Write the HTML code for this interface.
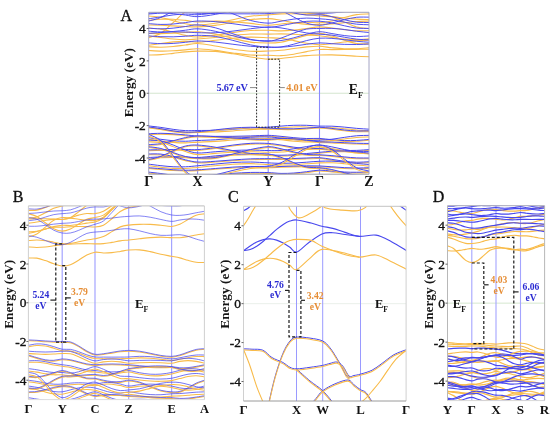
<!DOCTYPE html>
<html><head><meta charset="utf-8"><title>Band structures</title>
<style>html,body{margin:0;padding:0;background:#fff;overflow:hidden;}svg{display:block;filter:blur(0.40px);}</style></head>
<body>
<svg width="550" height="421" viewBox="0 0 550 421" font-family="'Liberation Serif','Times New Roman',serif">
<rect width="550" height="421" fill="#fff"/>
<clipPath id="clipA"><rect x="148.70" y="12.30" width="220.30" height="161.90"/></clipPath>
<line x1="148.70" y1="93.25" x2="369.00" y2="93.25" stroke="#d0e2ca" stroke-width="0.90"/>
<line x1="197.60" y1="12.30" x2="197.60" y2="174.20" stroke="#8a8aff" stroke-width="1.10"/>
<line x1="268.20" y1="12.30" x2="268.20" y2="174.20" stroke="#8a8aff" stroke-width="1.10"/>
<line x1="319.50" y1="12.30" x2="319.50" y2="174.20" stroke="#8a8aff" stroke-width="1.10"/>
<g clip-path="url(#clipA)" fill="none" stroke-linecap="round">
<path d="M148.70 16.02C150.74 16.26 156.85 16.69 160.92 17.46C165.00 18.23 169.07 19.61 173.15 20.66C177.22 21.71 181.30 23.04 185.38 23.76C189.45 24.47 192.62 25.01 197.60 24.93C202.58 24.85 209.37 24.17 215.25 23.29C221.13 22.42 227.02 20.86 232.90 19.68C238.78 18.49 244.67 16.99 250.55 16.20C256.43 15.40 263.12 15.27 268.20 14.89C273.28 14.51 276.75 14.07 281.02 13.89C285.30 13.71 289.58 13.68 293.85 13.81C298.12 13.94 302.40 14.32 306.68 14.69C310.95 15.06 315.30 15.70 319.50 16.02C323.70 16.35 327.75 16.32 331.88 16.64C336.00 16.96 340.12 17.52 344.25 17.94C348.38 18.36 352.50 18.88 356.62 19.16C360.75 19.43 366.94 19.51 369.00 19.59" stroke="#f8bb4a" stroke-width="1.10"/>
<path d="M148.70 24.93C150.74 24.97 156.85 25.03 160.92 25.19C165.00 25.35 169.07 25.64 173.15 25.87C177.22 26.10 181.30 26.40 185.38 26.56C189.45 26.73 192.62 27.06 197.60 26.87C202.58 26.68 209.37 26.17 215.25 25.42C221.13 24.68 227.02 23.38 232.90 22.40C238.78 21.43 244.67 20.21 250.55 19.58C256.43 18.95 263.12 18.49 268.20 18.61C273.28 18.74 276.75 19.64 281.02 20.33C285.30 21.02 289.58 22.07 293.85 22.75C298.12 23.44 302.40 24.17 306.68 24.46C310.95 24.74 315.30 24.53 319.50 24.44C323.70 24.35 327.75 24.20 331.88 23.91C336.00 23.62 340.12 23.10 344.25 22.70C348.38 22.30 352.50 21.78 356.62 21.51C360.75 21.23 366.94 21.12 369.00 21.04" stroke="#f8bb4a" stroke-width="1.10"/>
<path d="M148.70 28.17C150.74 28.32 156.85 28.46 160.92 29.11C165.00 29.77 169.07 31.06 173.15 32.11C177.22 33.16 181.30 34.58 185.38 35.41C189.45 36.24 192.62 37.09 197.60 37.07C202.58 37.05 209.37 36.03 215.25 35.27C221.13 34.51 227.02 33.33 232.90 32.53C238.78 31.73 244.67 30.84 250.55 30.46C256.43 30.08 263.12 30.20 268.20 30.27C273.28 30.34 276.75 30.91 281.02 30.89C285.30 30.87 289.58 30.55 293.85 30.15C298.12 29.75 302.40 29.03 306.68 28.48C310.95 27.94 315.30 26.95 319.50 26.87C323.70 26.79 327.75 27.53 331.88 27.98C336.00 28.43 340.12 29.12 344.25 29.58C348.38 30.04 352.50 30.53 356.62 30.73C360.75 30.92 366.94 30.75 369.00 30.76" stroke="#f8bb4a" stroke-width="1.10"/>
<path d="M148.70 35.94C150.74 36.20 156.85 36.99 160.92 37.51C165.00 38.03 169.07 38.70 173.15 39.07C177.22 39.43 181.30 39.70 185.38 39.69C189.45 39.68 192.62 39.39 197.60 39.01C202.58 38.64 209.37 38.06 215.25 37.45C221.13 36.85 227.02 35.95 232.90 35.38C238.78 34.81 244.67 34.22 250.55 34.02C256.43 33.81 263.12 34.18 268.20 34.16C273.28 34.13 276.75 33.85 281.02 33.86C285.30 33.87 289.58 34.02 293.85 34.21C298.12 34.41 302.40 34.75 306.68 35.01C310.95 35.27 315.30 35.36 319.50 35.78C323.70 36.19 327.75 36.93 331.88 37.48C336.00 38.04 340.12 38.73 344.25 39.09C348.38 39.46 352.50 39.70 356.62 39.66C360.75 39.62 366.94 38.99 369.00 38.85" stroke="#f8bb4a" stroke-width="1.10"/>
<path d="M148.70 45.33C150.74 45.03 156.85 44.12 160.92 43.55C165.00 42.98 169.07 42.28 173.15 41.92C177.22 41.55 181.30 41.32 185.38 41.38C189.45 41.43 192.62 42.43 197.60 42.25C202.58 42.07 209.37 40.99 215.25 40.31C221.13 39.63 227.02 38.71 232.90 38.18C238.78 37.64 244.67 37.18 250.55 37.11C256.43 37.03 263.12 37.52 268.20 37.72C273.28 37.92 276.75 37.83 281.02 38.31C285.30 38.80 289.58 39.78 293.85 40.60C298.12 41.42 302.40 42.56 306.68 43.24C310.95 43.92 315.30 44.60 319.50 44.68C323.70 44.76 327.75 44.16 331.88 43.72C336.00 43.28 340.12 42.56 344.25 42.05C348.38 41.53 352.50 40.92 356.62 40.63C360.75 40.34 366.94 40.36 369.00 40.31" stroke="#f8bb4a" stroke-width="1.10"/>
<path d="M148.70 46.78C150.74 46.86 156.85 47.30 160.92 47.25C165.00 47.20 169.07 46.88 173.15 46.50C177.22 46.11 181.30 45.45 185.38 44.96C189.45 44.47 192.62 43.38 197.60 43.55C202.58 43.71 209.37 45.04 215.25 45.97C221.13 46.90 227.02 48.28 232.90 49.15C238.78 50.03 244.67 50.93 250.55 51.24C256.43 51.54 263.12 51.16 268.20 50.99C273.28 50.83 276.75 50.64 281.02 50.23C285.30 49.82 289.58 49.09 293.85 48.54C298.12 47.98 302.40 47.28 306.68 46.91C310.95 46.54 315.30 46.16 319.50 46.30C323.70 46.43 327.75 47.32 331.88 47.72C336.00 48.13 340.12 48.57 344.25 48.74C348.38 48.91 352.50 48.92 356.62 48.75C360.75 48.59 366.94 47.92 369.00 47.76" stroke="#f8bb4a" stroke-width="1.10"/>
<path d="M148.70 50.51C150.74 50.61 156.85 51.05 160.92 51.10C165.00 51.15 169.07 51.03 173.15 50.82C177.22 50.61 181.30 50.19 185.38 49.84C189.45 49.49 192.62 48.64 197.60 48.73C202.58 48.82 209.37 49.68 215.25 50.38C221.13 51.09 227.02 52.21 232.90 52.97C238.78 53.73 244.67 54.59 250.55 54.96C256.43 55.34 263.12 55.09 268.20 55.20C273.28 55.32 276.75 55.83 281.02 55.66C285.30 55.50 289.58 54.86 293.85 54.20C298.12 53.53 302.40 52.43 306.68 51.66C310.95 50.88 315.30 49.88 319.50 49.54C323.70 49.19 327.75 49.59 331.88 49.59C336.00 49.59 340.12 49.55 344.25 49.52C348.38 49.48 352.50 49.41 356.62 49.36C360.75 49.31 366.94 49.24 369.00 49.21" stroke="#f8bb4a" stroke-width="1.10"/>
<path d="M148.70 55.04C150.74 54.97 156.85 54.92 160.92 54.64C165.00 54.35 169.07 53.79 173.15 53.33C177.22 52.87 181.30 52.25 185.38 51.89C189.45 51.53 192.62 51.24 197.60 51.16C202.58 51.07 209.37 50.94 215.25 51.38C221.13 51.82 227.02 52.86 232.90 53.79C238.78 54.73 244.67 56.10 250.55 56.99C256.43 57.87 263.12 58.85 268.20 59.09C273.28 59.33 276.75 58.79 281.02 58.44C285.30 58.09 289.58 57.47 293.85 56.99C298.12 56.51 302.40 55.91 306.68 55.58C310.95 55.26 315.30 55.15 319.50 55.04C323.70 54.93 327.75 54.86 331.88 54.92C336.00 54.97 340.12 55.18 344.25 55.39C348.38 55.60 352.50 55.94 356.62 56.18C360.75 56.42 366.94 56.71 369.00 56.82" stroke="#f8bb4a" stroke-width="1.10"/>
<path d="M148.70 37.72C150.74 36.98 156.85 35.81 160.92 33.29C165.00 30.76 169.07 26.15 173.15 22.58C177.22 19.01 181.30 14.40 185.38 11.88C189.45 9.35 192.62 8.22 197.60 7.44C202.58 6.67 209.37 7.20 215.25 7.23C221.13 7.26 227.02 7.43 232.90 7.62C238.78 7.81 244.67 8.14 250.55 8.38C256.43 8.62 263.12 8.81 268.20 9.06C273.28 9.31 276.75 9.46 281.02 9.89C285.30 10.32 289.58 11.08 293.85 11.66C298.12 12.23 302.40 12.95 306.68 13.32C310.95 13.70 315.30 13.36 319.50 13.92C323.70 14.48 327.75 15.30 331.88 16.66C336.00 18.02 340.12 20.35 344.25 22.07C348.38 23.78 352.50 25.90 356.62 26.97C360.75 28.04 366.94 28.24 369.00 28.49" stroke="#f8bb4a" stroke-width="1.10"/>
<path d="M148.70 20.39C150.74 20.21 156.85 19.45 160.92 19.26C165.00 19.08 169.07 19.08 173.15 19.27C177.22 19.46 181.30 19.95 185.38 20.41C189.45 20.87 192.62 21.89 197.60 22.01C202.58 22.13 209.37 21.18 215.25 21.13C221.13 21.08 227.02 21.33 232.90 21.71C238.78 22.09 244.67 22.83 250.55 23.42C256.43 24.01 263.12 25.16 268.20 25.25C273.28 25.34 276.75 24.38 281.02 23.96C285.30 23.54 289.58 23.00 293.85 22.72C298.12 22.43 302.40 22.23 306.68 22.24C310.95 22.26 315.30 23.04 319.50 22.82C323.70 22.61 327.75 21.83 331.88 20.95C336.00 20.07 340.12 18.61 344.25 17.56C348.38 16.51 352.50 15.26 356.62 14.65C360.75 14.04 366.94 14.04 369.00 13.92" stroke="#f8bb4a" stroke-width="1.10"/>
<path d="M148.70 33.35C150.74 33.39 156.85 33.63 160.92 33.62C165.00 33.60 169.07 33.45 173.15 33.26C177.22 33.06 181.30 32.73 185.38 32.47C189.45 32.22 192.62 31.45 197.60 31.73C202.58 32.00 209.37 33.01 215.25 34.13C221.13 35.25 227.02 37.11 232.90 38.44C238.78 39.78 244.67 41.37 250.55 42.14C256.43 42.91 263.12 43.05 268.20 43.06C273.28 43.07 276.75 42.89 281.02 42.22C285.30 41.55 289.58 40.17 293.85 39.02C298.12 37.88 302.40 36.30 306.68 35.35C310.95 34.40 315.30 33.23 319.50 33.35C323.70 33.47 327.75 34.91 331.88 36.07C336.00 37.22 340.12 39.04 344.25 40.28C348.38 41.52 352.50 42.91 356.62 43.51C360.75 44.11 366.94 43.81 369.00 43.87" stroke="#f8bb4a" stroke-width="1.10"/>
<path d="M148.70 13.27C150.74 13.15 156.85 12.71 160.92 12.54C165.00 12.37 169.07 12.24 173.15 12.24C177.22 12.24 181.30 12.37 185.38 12.54C189.45 12.71 192.62 13.10 197.60 13.27C202.58 13.45 209.37 13.50 215.25 13.59C221.13 13.68 227.02 13.78 232.90 13.82C238.78 13.86 244.67 13.86 250.55 13.82C256.43 13.78 263.12 13.80 268.20 13.60C273.28 13.39 276.75 12.85 281.02 12.60C285.30 12.34 289.58 12.12 293.85 12.09C298.12 12.05 302.40 12.17 306.68 12.37C310.95 12.56 315.30 13.17 319.50 13.27C323.70 13.37 327.75 13.24 331.88 12.97C336.00 12.69 340.12 12.10 344.25 11.61C348.38 11.11 352.50 10.41 356.62 9.99C360.75 9.57 366.94 9.22 369.00 9.06" stroke="#4848ee" stroke-width="0.95"/>
<path d="M148.70 14.08C150.74 13.93 156.85 13.28 160.92 13.20C165.00 13.12 169.07 13.29 173.15 13.60C177.22 13.90 181.30 14.52 185.38 15.03C189.45 15.55 192.62 16.78 197.60 16.67C202.58 16.56 209.37 15.36 215.25 14.37C221.13 13.37 227.02 11.80 232.90 10.71C238.78 9.62 244.67 8.38 250.55 7.84C256.43 7.30 263.12 7.10 268.20 7.44C273.28 7.78 276.75 8.95 281.02 9.88C285.30 10.81 289.58 12.17 293.85 13.03C298.12 13.89 302.40 14.75 306.68 15.03C310.95 15.32 315.30 14.46 319.50 14.73C323.70 15.00 327.75 15.83 331.88 16.66C336.00 17.50 340.12 18.83 344.25 19.74C348.38 20.66 352.50 21.70 356.62 22.16C360.75 22.62 366.94 22.44 369.00 22.50" stroke="#4848ee" stroke-width="0.95"/>
<path d="M148.70 21.04C150.74 20.44 156.85 19.12 160.92 17.45C165.00 15.78 169.07 13.01 173.15 11.03C177.22 9.05 181.30 6.68 185.38 5.54C189.45 4.41 192.62 3.95 197.60 4.21C202.58 4.46 209.37 5.46 215.25 7.06C221.13 8.66 227.02 11.56 232.90 13.79C238.78 16.03 244.67 18.90 250.55 20.46C256.43 22.01 263.12 23.03 268.20 23.15C273.28 23.27 276.75 21.86 281.02 21.19C285.30 20.51 289.58 19.61 293.85 19.10C298.12 18.58 302.40 18.15 306.68 18.10C310.95 18.04 315.30 18.47 319.50 18.78C323.70 19.08 327.75 19.37 331.88 19.94C336.00 20.50 340.12 21.46 344.25 22.17C348.38 22.88 352.50 23.74 356.62 24.17C360.75 24.60 366.94 24.67 369.00 24.77" stroke="#4848ee" stroke-width="0.95"/>
<path d="M148.70 23.63C150.74 23.77 156.85 24.37 160.92 24.43C165.00 24.49 169.07 24.30 173.15 24.00C177.22 23.69 181.30 23.09 185.38 22.60C189.45 22.10 192.62 21.21 197.60 21.04C202.58 20.88 209.37 21.17 215.25 21.61C221.13 22.05 227.02 22.95 232.90 23.70C238.78 24.44 244.67 25.47 250.55 26.08C256.43 26.69 263.12 27.42 268.20 27.36C273.28 27.29 276.75 26.38 281.02 25.69C285.30 25.00 289.58 23.92 293.85 23.20C298.12 22.47 302.40 21.67 306.68 21.34C310.95 21.01 315.30 20.94 319.50 21.20C323.70 21.47 327.75 22.15 331.88 22.90C336.00 23.66 340.12 24.88 344.25 25.74C348.38 26.60 352.50 27.60 356.62 28.06C360.75 28.51 366.94 28.42 369.00 28.49" stroke="#4848ee" stroke-width="0.95"/>
<path d="M148.70 28.17C150.74 28.28 156.85 28.83 160.92 28.83C165.00 28.82 169.07 28.53 173.15 28.15C177.22 27.77 181.30 27.07 185.38 26.54C189.45 26.00 192.62 24.72 197.60 24.93C202.58 25.14 209.37 26.31 215.25 27.78C221.13 29.25 227.02 31.83 232.90 33.75C238.78 35.68 244.67 38.09 250.55 39.35C256.43 40.60 263.12 41.48 268.20 41.28C273.28 41.08 276.75 39.50 281.02 38.13C285.30 36.77 289.58 34.59 293.85 33.08C298.12 31.57 302.40 29.85 306.68 29.09C310.95 28.32 315.30 28.61 319.50 28.49C323.70 28.37 327.75 28.20 331.88 28.37C336.00 28.54 340.12 29.03 344.25 29.51C348.38 29.99 352.50 30.73 356.62 31.24C360.75 31.74 366.94 32.32 369.00 32.54" stroke="#4848ee" stroke-width="0.95"/>
<path d="M148.70 31.24C150.74 31.36 156.85 31.89 160.92 31.94C165.00 31.98 169.07 31.80 173.15 31.51C177.22 31.23 181.30 30.67 185.38 30.22C189.45 29.77 192.62 28.64 197.60 28.81C202.58 28.99 209.37 30.10 215.25 31.27C221.13 32.43 227.02 34.38 232.90 35.79C238.78 37.20 244.67 38.90 250.55 39.74C256.43 40.57 263.12 40.66 268.20 40.79C273.28 40.93 276.75 41.06 281.02 40.56C285.30 40.07 289.58 38.88 293.85 37.81C298.12 36.74 302.40 35.17 306.68 34.15C310.95 33.14 315.30 31.83 319.50 31.73C323.70 31.63 327.75 32.92 331.88 33.55C336.00 34.19 340.12 35.05 344.25 35.54C348.38 36.04 352.50 36.46 356.62 36.53C360.75 36.60 366.94 36.04 369.00 35.94" stroke="#4848ee" stroke-width="0.95"/>
<path d="M148.70 33.35C150.74 33.20 156.85 32.68 160.92 32.44C165.00 32.19 169.07 31.95 173.15 31.87C177.22 31.79 181.30 31.84 185.38 31.98C189.45 32.12 192.62 32.57 197.60 32.70C202.58 32.83 209.37 33.02 215.25 32.76C221.13 32.49 227.02 31.79 232.90 31.12C238.78 30.45 244.67 29.43 250.55 28.75C256.43 28.07 263.12 27.17 268.20 27.03C273.28 26.89 276.75 27.36 281.02 27.91C285.30 28.47 289.58 29.52 293.85 30.36C298.12 31.20 302.40 32.32 306.68 32.95C310.95 33.58 315.30 33.79 319.50 34.16C323.70 34.52 327.75 34.62 331.88 35.13C336.00 35.64 340.12 36.53 344.25 37.19C348.38 37.86 352.50 38.70 356.62 39.14C360.75 39.58 366.94 39.71 369.00 39.82" stroke="#4848ee" stroke-width="0.95"/>
<path d="M148.70 35.94C150.74 36.06 156.85 36.55 160.92 36.69C165.00 36.84 169.07 36.89 173.15 36.82C177.22 36.74 181.30 36.49 185.38 36.23C189.45 35.98 192.62 35.26 197.60 35.29C202.58 35.32 209.37 35.56 215.25 36.41C221.13 37.26 227.02 38.97 232.90 40.38C238.78 41.79 244.67 43.73 250.55 44.88C256.43 46.03 263.12 46.92 268.20 47.27C273.28 47.62 276.75 47.47 281.02 46.96C285.30 46.44 289.58 45.24 293.85 44.17C298.12 43.10 302.40 41.54 306.68 40.55C310.95 39.55 315.30 38.56 319.50 38.20C323.70 37.85 327.75 38.16 331.88 38.40C336.00 38.65 340.12 39.19 344.25 39.67C348.38 40.15 352.50 40.83 356.62 41.26C360.75 41.69 366.94 42.09 369.00 42.25" stroke="#4848ee" stroke-width="0.95"/>
<path d="M148.70 42.90C150.74 43.03 156.85 43.58 160.92 43.67C165.00 43.75 169.07 43.65 173.15 43.42C177.22 43.19 181.30 42.70 185.38 42.29C189.45 41.88 192.62 41.00 197.60 40.96C202.58 40.92 209.37 41.50 215.25 42.05C221.13 42.60 227.02 43.55 232.90 44.26C238.78 44.97 244.67 45.84 250.55 46.29C256.43 46.73 263.12 46.80 268.20 46.95C273.28 47.09 276.75 47.29 281.02 47.14C285.30 46.99 289.58 46.52 293.85 46.04C298.12 45.56 302.40 44.80 306.68 44.28C310.95 43.76 315.30 43.00 319.50 42.90C323.70 42.80 327.75 43.45 331.88 43.70C336.00 43.94 340.12 44.23 344.25 44.36C348.38 44.49 352.50 44.55 356.62 44.50C360.75 44.44 366.94 44.11 369.00 44.03" stroke="#4848ee" stroke-width="0.95"/>
<path d="M148.70 18.78C150.74 18.46 156.85 17.53 160.92 16.89C165.00 16.25 169.07 15.40 173.15 14.92C177.22 14.45 181.30 14.06 185.38 14.03C189.45 14.00 192.62 14.93 197.60 14.73C202.58 14.53 209.37 13.63 215.25 12.83C221.13 12.02 227.02 10.77 232.90 9.91C238.78 9.05 244.67 8.09 250.55 7.68C256.43 7.27 263.12 6.96 268.20 7.44C273.28 7.93 276.75 8.98 281.02 10.59C285.30 12.20 289.58 15.01 293.85 17.11C298.12 19.21 302.40 21.82 306.68 23.18C310.95 24.54 315.30 25.28 319.50 25.25C323.70 25.22 327.75 23.93 331.88 23.01C336.00 22.09 340.12 20.66 344.25 19.71C348.38 18.76 352.50 17.71 356.62 17.29C360.75 16.86 366.94 17.18 369.00 17.16" stroke="#4848ee" stroke-width="0.95"/>
<path d="M148.70 127.57C150.74 127.82 156.85 128.47 160.92 129.03C165.00 129.60 169.07 130.43 173.15 130.96C177.22 131.50 181.30 132.05 185.38 132.24C189.45 132.43 192.62 132.16 197.60 132.11C202.58 132.05 209.37 132.12 215.25 131.92C221.13 131.72 227.02 131.28 232.90 130.90C238.78 130.52 244.67 129.97 250.55 129.63C256.43 129.29 263.12 129.19 268.20 128.87C273.28 128.55 276.75 128.05 281.02 127.73C285.30 127.40 289.58 127.06 293.85 126.92C298.12 126.79 302.40 126.79 306.68 126.93C310.95 127.06 315.30 127.59 319.50 127.73C323.70 127.88 327.75 127.63 331.88 127.80C336.00 127.96 340.12 128.36 344.25 128.72C348.38 129.08 352.50 129.62 356.62 129.97C360.75 130.32 366.94 130.67 369.00 130.81" stroke="#f8bb4a" stroke-width="1.05"/>
<path d="M148.70 125.95C150.74 126.20 156.85 126.85 160.92 127.41C165.00 127.98 169.07 128.81 173.15 129.34C177.22 129.88 181.30 130.43 185.38 130.62C189.45 130.81 192.62 130.54 197.60 130.49C202.58 130.43 209.37 130.50 215.25 130.30C221.13 130.10 227.02 129.66 232.90 129.28C238.78 128.90 244.67 128.35 250.55 128.01C256.43 127.68 263.12 127.57 268.20 127.25C273.28 126.93 276.75 126.43 281.02 126.11C285.30 125.79 289.58 125.44 293.85 125.31C298.12 125.17 302.40 125.17 306.68 125.31C310.95 125.44 315.30 125.97 319.50 126.12C323.70 126.26 327.75 126.01 331.88 126.18C336.00 126.34 340.12 126.74 344.25 127.10C348.38 127.47 352.50 128.00 356.62 128.35C360.75 128.70 366.94 129.05 369.00 129.19" stroke="#4848ee" stroke-width="1.00"/>
<path d="M148.70 127.73C150.74 128.04 156.85 128.88 160.92 129.54C165.00 130.21 169.07 131.14 173.15 131.72C177.22 132.29 181.30 132.83 185.38 132.98C189.45 133.12 192.62 132.97 197.60 132.59C202.58 132.21 209.37 131.33 215.25 130.70C221.13 130.07 227.02 129.27 232.90 128.83C238.78 128.39 244.67 128.06 250.55 128.07C256.43 128.08 263.12 128.62 268.20 128.87C273.28 129.11 276.75 129.42 281.02 129.54C285.30 129.66 289.58 129.67 293.85 129.58C298.12 129.48 302.40 129.22 306.68 128.96C310.95 128.71 315.30 128.01 319.50 128.06C323.70 128.11 327.75 128.79 331.88 129.24C336.00 129.70 340.12 130.36 344.25 130.78C348.38 131.20 352.50 131.62 356.62 131.76C360.75 131.90 366.94 131.64 369.00 131.62" stroke="#f8bb4a" stroke-width="1.05"/>
<path d="M148.70 126.93C150.74 127.23 156.85 128.07 160.92 128.73C165.00 129.40 169.07 130.33 173.15 130.91C177.22 131.48 181.30 132.02 185.38 132.17C189.45 132.31 192.62 132.16 197.60 131.78C202.58 131.40 209.37 130.52 215.25 129.89C221.13 129.27 227.02 128.46 232.90 128.02C238.78 127.58 244.67 127.25 250.55 127.26C256.43 127.27 263.12 127.81 268.20 128.06C273.28 128.30 276.75 128.61 281.02 128.73C285.30 128.85 289.58 128.86 293.85 128.77C298.12 128.67 302.40 128.41 306.68 128.16C310.95 127.90 315.30 127.20 319.50 127.25C323.70 127.30 327.75 127.98 331.88 128.43C336.00 128.89 340.12 129.55 344.25 129.97C348.38 130.39 352.50 130.81 356.62 130.95C360.75 131.09 366.94 130.83 369.00 130.81" stroke="#4848ee" stroke-width="1.00"/>
<path d="M148.70 134.53C150.74 134.46 156.85 134.10 160.92 134.12C165.00 134.13 169.07 134.34 173.15 134.61C177.22 134.88 181.30 135.35 185.38 135.72C189.45 136.09 192.62 136.56 197.60 136.80C202.58 137.04 209.37 137.12 215.25 137.18C221.13 137.23 227.02 137.22 232.90 137.14C238.78 137.07 244.67 136.88 250.55 136.72C256.43 136.55 263.12 136.08 268.20 136.15C273.28 136.23 276.75 136.78 281.02 137.16C285.30 137.55 289.58 138.12 293.85 138.48C298.12 138.85 302.40 139.21 306.68 139.34C310.95 139.46 315.30 139.03 319.50 139.23C323.70 139.43 327.75 140.19 331.88 140.54C336.00 140.90 340.12 141.26 344.25 141.37C348.38 141.49 352.50 141.43 356.62 141.23C360.75 141.04 366.94 140.37 369.00 140.20" stroke="#f8bb4a" stroke-width="1.05"/>
<path d="M148.70 133.72C150.74 133.66 156.85 133.30 160.92 133.31C165.00 133.32 169.07 133.53 173.15 133.80C177.22 134.07 181.30 134.54 185.38 134.91C189.45 135.28 192.62 135.75 197.60 135.99C202.58 136.23 209.37 136.31 215.25 136.37C221.13 136.42 227.02 136.41 232.90 136.33C238.78 136.26 244.67 136.07 250.55 135.91C256.43 135.74 263.12 135.27 268.20 135.34C273.28 135.42 276.75 135.97 281.02 136.35C285.30 136.74 289.58 137.31 293.85 137.67C298.12 138.04 302.40 138.40 306.68 138.53C310.95 138.65 315.30 138.22 319.50 138.42C323.70 138.62 327.75 139.38 331.88 139.73C336.00 140.09 340.12 140.45 344.25 140.56C348.38 140.68 352.50 140.62 356.62 140.42C360.75 140.23 366.94 139.56 369.00 139.39" stroke="#4848ee" stroke-width="1.00"/>
<path d="M148.70 139.39C150.74 139.65 156.85 140.43 160.92 140.92C165.00 141.42 169.07 142.04 173.15 142.36C177.22 142.68 181.30 142.90 185.38 142.87C189.45 142.83 192.62 142.39 197.60 142.14C202.58 141.90 209.37 141.75 215.25 141.39C221.13 141.04 227.02 140.46 232.90 140.04C238.78 139.62 244.67 139.12 250.55 138.88C256.43 138.63 263.12 138.43 268.20 138.58C273.28 138.73 276.75 139.33 281.02 139.76C285.30 140.20 289.58 140.82 293.85 141.20C298.12 141.58 302.40 141.95 306.68 142.05C310.95 142.16 315.30 142.02 319.50 141.82C323.70 141.62 327.75 141.30 331.88 140.83C336.00 140.36 340.12 139.57 344.25 139.00C348.38 138.43 352.50 137.74 356.62 137.40C360.75 137.06 366.94 137.04 369.00 136.96" stroke="#f8bb4a" stroke-width="1.05"/>
<path d="M148.70 137.77C150.74 138.03 156.85 138.81 160.92 139.30C165.00 139.80 169.07 140.42 173.15 140.74C177.22 141.07 181.30 141.28 185.38 141.25C189.45 141.21 192.62 140.77 197.60 140.52C202.58 140.28 209.37 140.13 215.25 139.78C221.13 139.43 227.02 138.84 232.90 138.42C238.78 138.00 244.67 137.50 250.55 137.26C256.43 137.01 263.12 136.82 268.20 136.96C273.28 137.11 276.75 137.71 281.02 138.14C285.30 138.58 289.58 139.20 293.85 139.58C298.12 139.96 302.40 140.33 306.68 140.43C310.95 140.54 315.30 140.40 319.50 140.20C323.70 140.00 327.75 139.68 331.88 139.21C336.00 138.74 340.12 137.95 344.25 137.38C348.38 136.81 352.50 136.12 356.62 135.78C360.75 135.44 366.94 135.42 369.00 135.34" stroke="#4848ee" stroke-width="1.00"/>
<path d="M148.70 145.38C150.74 145.23 156.85 145.11 160.92 144.48C165.00 143.85 169.07 142.60 173.15 141.59C177.22 140.58 181.30 139.21 185.38 138.41C189.45 137.61 192.62 136.96 197.60 136.80C202.58 136.64 209.37 137.11 215.25 137.43C221.13 137.74 227.02 138.28 232.90 138.68C238.78 139.08 244.67 139.58 250.55 139.83C256.43 140.08 263.12 140.29 268.20 140.20C273.28 140.11 276.75 139.39 281.02 139.30C285.30 139.20 289.58 139.35 293.85 139.63C298.12 139.92 302.40 140.51 306.68 141.01C310.95 141.51 315.30 142.31 319.50 142.63C323.70 142.95 327.75 142.77 331.88 142.91C336.00 143.06 340.12 143.31 344.25 143.50C348.38 143.69 352.50 143.93 356.62 144.06C360.75 144.18 366.94 144.22 369.00 144.25" stroke="#f8bb4a" stroke-width="1.05"/>
<path d="M148.70 144.57C150.74 144.42 156.85 144.30 160.92 143.67C165.00 143.04 169.07 141.79 173.15 140.78C177.22 139.77 181.30 138.40 185.38 137.60C189.45 136.80 192.62 136.16 197.60 135.99C202.58 135.83 209.37 136.30 215.25 136.62C221.13 136.93 227.02 137.47 232.90 137.87C238.78 138.27 244.67 138.77 250.55 139.02C256.43 139.28 263.12 139.48 268.20 139.39C273.28 139.30 276.75 138.58 281.02 138.49C285.30 138.39 289.58 138.54 293.85 138.82C298.12 139.11 302.40 139.70 306.68 140.20C310.95 140.70 315.30 141.50 319.50 141.82C323.70 142.14 327.75 141.96 331.88 142.10C336.00 142.25 340.12 142.50 344.25 142.69C348.38 142.88 352.50 143.12 356.62 143.25C360.75 143.37 366.94 143.41 369.00 143.44" stroke="#4848ee" stroke-width="1.00"/>
<path d="M148.70 150.72C150.74 150.68 156.85 150.55 160.92 150.47C165.00 150.40 169.07 150.31 173.15 150.27C177.22 150.23 181.30 150.22 185.38 150.24C189.45 150.26 192.62 150.69 197.60 150.40C202.58 150.11 209.37 149.24 215.25 148.49C221.13 147.74 227.02 146.63 232.90 145.90C238.78 145.18 244.67 144.42 250.55 144.14C256.43 143.87 263.12 143.96 268.20 144.25C273.28 144.53 276.75 145.23 281.02 145.85C285.30 146.48 289.58 147.40 293.85 147.99C298.12 148.58 302.40 149.19 306.68 149.40C310.95 149.62 315.30 149.10 319.50 149.27C323.70 149.43 327.75 150.07 331.88 150.38C336.00 150.70 340.12 151.04 344.25 151.18C348.38 151.31 352.50 151.31 356.62 151.19C360.75 151.06 366.94 150.53 369.00 150.40" stroke="#f8bb4a" stroke-width="1.05"/>
<path d="M148.70 149.91C150.74 149.87 156.85 149.74 160.92 149.66C165.00 149.59 169.07 149.50 173.15 149.46C177.22 149.43 181.30 149.41 185.38 149.43C189.45 149.46 192.62 149.88 197.60 149.59C202.58 149.30 209.37 148.43 215.25 147.68C221.13 146.93 227.02 145.82 232.90 145.09C238.78 144.37 244.67 143.61 250.55 143.33C256.43 143.06 263.12 143.15 268.20 143.44C273.28 143.72 276.75 144.42 281.02 145.05C285.30 145.67 289.58 146.59 293.85 147.18C298.12 147.77 302.40 148.38 306.68 148.59C310.95 148.81 315.30 148.29 319.50 148.46C323.70 148.62 327.75 149.26 331.88 149.57C336.00 149.89 340.12 150.23 344.25 150.37C348.38 150.50 352.50 150.51 356.62 150.38C360.75 150.25 366.94 149.72 369.00 149.59" stroke="#4848ee" stroke-width="1.00"/>
<path d="M148.70 141.82C150.74 141.95 156.85 141.77 160.92 142.57C165.00 143.37 169.07 145.12 173.15 146.63C177.22 148.14 181.30 150.28 185.38 151.61C189.45 152.95 192.62 154.32 197.60 154.61C202.58 154.90 209.37 153.79 215.25 153.38C221.13 152.97 227.02 152.45 232.90 152.16C238.78 151.87 244.67 151.66 250.55 151.66C256.43 151.67 263.12 152.11 268.20 152.18C273.28 152.25 276.75 152.36 281.02 152.06C285.30 151.77 289.58 151.05 293.85 150.40C298.12 149.75 302.40 148.79 306.68 148.17C310.95 147.55 315.30 146.63 319.50 146.68C323.70 146.73 327.75 147.74 331.88 148.48C336.00 149.22 340.12 150.36 344.25 151.12C348.38 151.88 352.50 152.72 356.62 153.06C360.75 153.40 366.94 153.14 369.00 153.15" stroke="#f8bb4a" stroke-width="1.05"/>
<path d="M148.70 140.20C150.74 140.33 156.85 140.15 160.92 140.95C165.00 141.75 169.07 143.50 173.15 145.01C177.22 146.52 181.30 148.67 185.38 150.00C189.45 151.33 192.62 152.70 197.60 152.99C202.58 153.29 209.37 152.17 215.25 151.76C221.13 151.35 227.02 150.83 232.90 150.54C238.78 150.26 244.67 150.04 250.55 150.05C256.43 150.05 263.12 150.50 268.20 150.56C273.28 150.63 276.75 150.74 281.02 150.44C285.30 150.15 289.58 149.43 293.85 148.78C298.12 148.13 302.40 147.17 306.68 146.55C310.95 145.93 315.30 145.01 319.50 145.06C323.70 145.11 327.75 146.12 331.88 146.86C336.00 147.60 340.12 148.74 344.25 149.50C348.38 150.26 352.50 151.10 356.62 151.44C360.75 151.78 366.94 151.52 369.00 151.53" stroke="#4848ee" stroke-width="1.00"/>
<path d="M148.70 158.33C150.74 158.22 156.85 157.83 160.92 157.68C165.00 157.52 169.07 157.40 173.15 157.40C177.22 157.40 181.30 157.52 185.38 157.68C189.45 157.83 192.62 158.49 197.60 158.33C202.58 158.17 209.37 157.24 215.25 156.72C221.13 156.21 227.02 155.57 232.90 155.25C238.78 154.92 244.67 154.72 250.55 154.77C256.43 154.83 263.12 155.37 268.20 155.58C273.28 155.80 276.75 156.07 281.02 156.06C285.30 156.05 289.58 155.83 293.85 155.55C298.12 155.26 302.40 154.74 306.68 154.34C310.95 153.94 315.30 153.54 319.50 153.15C323.70 152.77 327.75 152.26 331.88 152.03C336.00 151.81 340.12 151.71 344.25 151.81C348.38 151.90 352.50 152.25 356.62 152.61C360.75 152.97 366.94 153.74 369.00 153.96" stroke="#f8bb4a" stroke-width="1.05"/>
<path d="M148.70 157.52C150.74 157.41 156.85 157.02 160.92 156.87C165.00 156.71 169.07 156.59 173.15 156.59C177.22 156.59 181.30 156.71 185.38 156.87C189.45 157.02 192.62 157.68 197.60 157.52C202.58 157.37 209.37 156.43 215.25 155.91C221.13 155.40 227.02 154.76 232.90 154.44C238.78 154.11 244.67 153.91 250.55 153.97C256.43 154.02 263.12 154.56 268.20 154.77C273.28 154.99 276.75 155.26 281.02 155.25C285.30 155.24 289.58 155.02 293.85 154.74C298.12 154.45 302.40 153.93 306.68 153.53C310.95 153.13 315.30 152.73 319.50 152.34C323.70 151.96 327.75 151.45 331.88 151.23C336.00 151.00 340.12 150.90 344.25 151.00C348.38 151.09 352.50 151.44 356.62 151.80C360.75 152.16 366.94 152.93 369.00 153.15" stroke="#4848ee" stroke-width="1.00"/>
<path d="M148.70 154.77C150.74 154.79 156.85 154.48 160.92 154.91C165.00 155.33 169.07 156.38 173.15 157.33C177.22 158.29 181.30 159.71 185.38 160.63C189.45 161.55 192.62 162.62 197.60 162.87C202.58 163.11 209.37 162.44 215.25 162.08C221.13 161.73 227.02 161.17 232.90 160.76C238.78 160.36 244.67 159.90 250.55 159.68C256.43 159.46 263.12 159.49 268.20 159.47C273.28 159.44 276.75 159.57 281.02 159.54C285.30 159.51 289.58 159.40 293.85 159.29C298.12 159.17 302.40 158.99 306.68 158.85C310.95 158.72 315.30 158.28 319.50 158.50C323.70 158.72 327.75 159.58 331.88 160.18C336.00 160.77 340.12 161.58 344.25 162.06C348.38 162.54 352.50 162.96 356.62 163.04C360.75 163.12 366.94 162.63 369.00 162.54" stroke="#f8bb4a" stroke-width="1.05"/>
<path d="M148.70 153.96C150.74 153.99 156.85 153.67 160.92 154.10C165.00 154.52 169.07 155.57 173.15 156.52C177.22 157.48 181.30 158.90 185.38 159.82C189.45 160.74 192.62 161.82 197.60 162.06C202.58 162.30 209.37 161.63 215.25 161.28C221.13 160.92 227.02 160.36 232.90 159.96C238.78 159.55 244.67 159.09 250.55 158.87C256.43 158.65 263.12 158.68 268.20 158.66C273.28 158.63 276.75 158.76 281.02 158.73C285.30 158.70 289.58 158.59 293.85 158.48C298.12 158.36 302.40 158.18 306.68 158.04C310.95 157.91 315.30 157.47 319.50 157.69C323.70 157.91 327.75 158.77 331.88 159.37C336.00 159.96 340.12 160.77 344.25 161.25C348.38 161.73 352.50 162.15 356.62 162.23C360.75 162.31 366.94 161.82 369.00 161.73" stroke="#4848ee" stroke-width="1.00"/>
<path d="M148.70 165.78C150.74 166.03 156.85 166.85 160.92 167.29C165.00 167.72 169.07 168.19 173.15 168.38C177.22 168.57 181.30 168.59 185.38 168.43C189.45 168.27 192.62 167.85 197.60 167.40C202.58 166.95 209.37 166.24 215.25 165.70C221.13 165.16 227.02 164.49 232.90 164.15C238.78 163.80 244.67 163.58 250.55 163.64C256.43 163.70 263.12 164.26 268.20 164.49C273.28 164.71 276.75 164.93 281.02 164.97C285.30 165.00 289.58 164.88 293.85 164.69C298.12 164.50 302.40 164.13 306.68 163.82C310.95 163.52 315.30 163.04 319.50 162.87C323.70 162.69 327.75 162.64 331.88 162.78C336.00 162.92 340.12 163.31 344.25 163.69C348.38 164.07 352.50 164.67 356.62 165.07C360.75 165.47 366.94 165.93 369.00 166.10" stroke="#f8bb4a" stroke-width="1.05"/>
<path d="M148.70 164.16C150.74 164.41 156.85 165.23 160.92 165.67C165.00 166.10 169.07 166.57 173.15 166.76C177.22 166.95 181.30 166.98 185.38 166.81C189.45 166.65 192.62 166.24 197.60 165.78C202.58 165.33 209.37 164.63 215.25 164.08C221.13 163.54 227.02 162.87 232.90 162.53C238.78 162.18 244.67 161.97 250.55 162.02C256.43 162.08 263.12 162.65 268.20 162.87C273.28 163.09 276.75 163.31 281.02 163.35C285.30 163.38 289.58 163.26 293.85 163.07C298.12 162.88 302.40 162.51 306.68 162.20C310.95 161.90 315.30 161.42 319.50 161.25C323.70 161.07 327.75 161.02 331.88 161.16C336.00 161.30 340.12 161.69 344.25 162.07C348.38 162.45 352.50 163.05 356.62 163.45C360.75 163.85 366.94 164.31 369.00 164.49" stroke="#4848ee" stroke-width="1.00"/>
<path d="M148.70 168.53C150.74 168.70 156.85 169.18 160.92 169.51C165.00 169.84 169.07 170.28 173.15 170.53C177.22 170.78 181.30 170.98 185.38 171.00C189.45 171.02 192.62 170.92 197.60 170.64C202.58 170.36 209.37 169.77 215.25 169.32C221.13 168.87 227.02 168.27 232.90 167.92C238.78 167.58 244.67 167.29 250.55 167.26C256.43 167.23 263.12 167.71 268.20 167.72C273.28 167.73 276.75 167.46 281.02 167.32C285.30 167.17 289.58 166.98 293.85 166.86C298.12 166.75 302.40 166.65 306.68 166.63C310.95 166.61 315.30 166.59 319.50 166.75C323.70 166.91 327.75 167.30 331.88 167.58C336.00 167.86 340.12 168.24 344.25 168.45C348.38 168.66 352.50 168.83 356.62 168.84C360.75 168.85 366.94 168.58 369.00 168.53" stroke="#f8bb4a" stroke-width="1.05"/>
<path d="M148.70 167.72C150.74 167.89 156.85 168.37 160.92 168.70C165.00 169.03 169.07 169.47 173.15 169.72C177.22 169.97 181.30 170.17 185.38 170.19C189.45 170.21 192.62 170.11 197.60 169.83C202.58 169.55 209.37 168.96 215.25 168.51C221.13 168.06 227.02 167.46 232.90 167.11C238.78 166.77 244.67 166.49 250.55 166.45C256.43 166.42 263.12 166.91 268.20 166.91C273.28 166.92 276.75 166.65 281.02 166.51C285.30 166.36 289.58 166.17 293.85 166.05C298.12 165.94 302.40 165.84 306.68 165.82C310.95 165.80 315.30 165.78 319.50 165.94C323.70 166.10 327.75 166.49 331.88 166.77C336.00 167.05 340.12 167.43 344.25 167.64C348.38 167.85 352.50 168.02 356.62 168.03C360.75 168.05 366.94 167.78 369.00 167.72" stroke="#4848ee" stroke-width="1.00"/>
<path d="M148.70 172.90C150.74 173.14 156.85 173.82 160.92 174.34C165.00 174.86 169.07 175.59 173.15 176.03C177.22 176.47 181.30 176.87 185.38 176.97C189.45 177.08 192.62 176.87 197.60 176.63C202.58 176.39 209.37 175.96 215.25 175.55C221.13 175.14 227.02 174.53 232.90 174.15C238.78 173.77 244.67 173.39 250.55 173.26C256.43 173.13 263.12 173.23 268.20 173.39C273.28 173.55 276.75 174.14 281.02 174.22C285.30 174.30 289.58 174.14 293.85 173.85C298.12 173.57 302.40 172.98 306.68 172.50C310.95 172.02 315.30 171.05 319.50 170.96C323.70 170.87 327.75 171.63 331.88 171.95C336.00 172.26 340.12 172.64 344.25 172.83C348.38 173.02 352.50 173.13 356.62 173.09C360.75 173.05 366.94 172.67 369.00 172.58" stroke="#f8bb4a" stroke-width="1.05"/>
<path d="M148.70 172.10C150.74 172.33 156.85 173.01 160.92 173.53C165.00 174.05 169.07 174.78 173.15 175.22C177.22 175.66 181.30 176.07 185.38 176.17C189.45 176.27 192.62 176.06 197.60 175.82C202.58 175.58 209.37 175.15 215.25 174.74C221.13 174.33 227.02 173.73 232.90 173.34C238.78 172.96 244.67 172.58 250.55 172.45C256.43 172.32 263.12 172.42 268.20 172.58C273.28 172.74 276.75 173.33 281.02 173.41C285.30 173.49 289.58 173.33 293.85 173.04C298.12 172.76 302.40 172.17 306.68 171.69C310.95 171.21 315.30 170.25 319.50 170.15C323.70 170.06 327.75 170.83 331.88 171.14C336.00 171.45 340.12 171.83 344.25 172.02C348.38 172.21 352.50 172.32 356.62 172.28C360.75 172.24 366.94 171.86 369.00 171.77" stroke="#4848ee" stroke-width="1.00"/>
<path d="M148.70 136.15C150.74 137.17 156.85 138.74 160.92 142.27C165.00 145.81 169.07 152.32 173.15 157.37C177.22 162.43 181.30 169.00 185.38 172.61C189.45 176.22 192.62 178.42 197.60 179.06C202.58 179.69 209.37 177.60 215.25 176.43C221.13 175.26 227.02 173.36 232.90 172.02C238.78 170.69 244.67 169.13 250.55 168.42C256.43 167.70 263.12 168.41 268.20 167.72C273.28 167.04 276.75 166.16 281.02 164.33C285.30 162.50 289.58 159.24 293.85 156.76C298.12 154.28 302.40 151.13 306.68 149.45C310.95 147.77 315.30 146.41 319.50 146.68C323.70 146.95 327.75 148.77 331.88 151.07C336.00 153.38 340.12 157.43 344.25 160.48C348.38 163.54 352.50 167.37 356.62 169.39C360.75 171.41 366.94 172.05 369.00 172.58" stroke="#f8bb4a" stroke-width="1.05"/>
<path d="M148.70 134.53C150.74 135.55 156.85 137.12 160.92 140.65C165.00 144.19 169.07 150.70 173.15 155.76C177.22 160.81 181.30 167.38 185.38 170.99C189.45 174.61 192.62 176.80 197.60 177.44C202.58 178.07 209.37 175.98 215.25 174.81C221.13 173.64 227.02 171.74 232.90 170.40C238.78 169.07 244.67 167.51 250.55 166.80C256.43 166.08 263.12 166.79 268.20 166.10C273.28 165.42 276.75 164.54 281.02 162.71C285.30 160.88 289.58 157.62 293.85 155.14C298.12 152.66 302.40 149.51 306.68 147.83C310.95 146.15 315.30 144.79 319.50 145.06C323.70 145.33 327.75 147.15 331.88 149.46C336.00 151.76 340.12 155.81 344.25 158.86C348.38 161.92 352.50 165.76 356.62 167.77C360.75 169.79 366.94 170.43 369.00 170.96" stroke="#4848ee" stroke-width="1.00"/>
<path d="M148.70 160.44C150.74 159.89 156.85 158.64 160.92 157.16C165.00 155.67 169.07 153.25 173.15 151.53C177.22 149.81 181.30 147.80 185.38 146.85C189.45 145.91 192.62 145.68 197.60 145.87C202.58 146.06 209.37 147.05 215.25 147.98C221.13 148.92 227.02 150.42 232.90 151.47C238.78 152.52 244.67 153.73 250.55 154.28C256.43 154.83 263.12 154.13 268.20 154.77C273.28 155.41 276.75 156.66 281.02 158.12C285.30 159.58 289.58 161.91 293.85 163.53C298.12 165.15 302.40 167.01 306.68 167.85C310.95 168.68 315.30 168.12 319.50 168.53C323.70 168.95 327.75 169.53 331.88 170.35C336.00 171.18 340.12 172.52 344.25 173.48C348.38 174.43 352.50 175.55 356.62 176.08C360.75 176.60 366.94 176.54 369.00 176.63" stroke="#f8bb4a" stroke-width="1.05"/>
<path d="M148.70 159.63C150.74 159.08 156.85 157.83 160.92 156.35C165.00 154.86 169.07 152.44 173.15 150.72C177.22 149.00 181.30 146.99 185.38 146.05C189.45 145.10 192.62 144.87 197.60 145.06C202.58 145.25 209.37 146.24 215.25 147.18C221.13 148.11 227.02 149.61 232.90 150.66C238.78 151.71 244.67 152.92 250.55 153.47C256.43 154.02 263.12 153.32 268.20 153.96C273.28 154.60 276.75 155.85 281.02 157.31C285.30 158.77 289.58 161.10 293.85 162.72C298.12 164.34 302.40 166.20 306.68 167.04C310.95 167.87 315.30 167.31 319.50 167.72C323.70 168.14 327.75 168.72 331.88 169.54C336.00 170.37 340.12 171.71 344.25 172.67C348.38 173.62 352.50 174.74 356.62 175.27C360.75 175.79 366.94 175.73 369.00 175.82" stroke="#4848ee" stroke-width="1.00"/>
<path d="M148.70 147.49C150.74 147.79 156.85 148.32 160.92 149.30C165.00 150.27 169.07 152.03 173.15 153.36C177.22 154.70 181.30 156.40 185.38 157.31C189.45 158.22 192.62 158.64 197.60 158.82C202.58 159.00 209.37 159.03 215.25 158.37C221.13 157.71 227.02 156.20 232.90 154.86C238.78 153.53 244.67 151.58 250.55 150.35C256.43 149.12 263.12 147.62 268.20 147.49C273.28 147.35 276.75 148.68 281.02 149.56C285.30 150.45 289.58 151.84 293.85 152.79C298.12 153.75 302.40 154.82 306.68 155.29C310.95 155.75 315.30 155.39 319.50 155.58C323.70 155.77 327.75 156.06 331.88 156.42C336.00 156.77 340.12 157.33 344.25 157.71C348.38 158.09 352.50 158.52 356.62 158.71C360.75 158.89 366.94 158.80 369.00 158.82" stroke="#f8bb4a" stroke-width="1.05"/>
<path d="M148.70 146.68C150.74 146.98 156.85 147.51 160.92 148.49C165.00 149.47 169.07 151.22 173.15 152.55C177.22 153.89 181.30 155.59 185.38 156.50C189.45 157.41 192.62 157.83 197.60 158.01C202.58 158.19 209.37 158.22 215.25 157.56C221.13 156.90 227.02 155.39 232.90 154.05C238.78 152.72 244.67 150.77 250.55 149.54C256.43 148.32 263.12 146.81 268.20 146.68C273.28 146.54 276.75 147.87 281.02 148.75C285.30 149.64 289.58 151.03 293.85 151.98C298.12 152.94 302.40 154.01 306.68 154.48C310.95 154.94 315.30 154.58 319.50 154.77C323.70 154.96 327.75 155.25 331.88 155.61C336.00 155.96 340.12 156.52 344.25 156.90C348.38 157.28 352.50 157.71 356.62 157.90C360.75 158.08 366.94 157.99 369.00 158.01" stroke="#4848ee" stroke-width="1.00"/>
</g>
<line x1="148.70" y1="12.30" x2="148.70" y2="174.20" stroke="#a4a4c4" stroke-width="1"/>
<line x1="369.00" y1="12.30" x2="369.00" y2="174.20" stroke="#a4a4c4" stroke-width="1"/>
<line x1="148.70" y1="12.30" x2="369.00" y2="12.30" stroke="#a0a0b8" stroke-width="1"/>
<line x1="148.70" y1="174.20" x2="369.00" y2="174.20" stroke="#9a9aa8" stroke-width="1"/>
<clipPath id="clipB"><rect x="28.40" y="205.90" width="176.00" height="193.70"/></clipPath>
<line x1="28.40" y1="302.75" x2="204.40" y2="302.75" stroke="#eaeeea" stroke-width="0.90"/>
<line x1="62.20" y1="205.90" x2="62.20" y2="399.60" stroke="#a4a4ff" stroke-width="1.20"/>
<line x1="95.00" y1="205.90" x2="95.00" y2="399.60" stroke="#a4a4ff" stroke-width="1.20"/>
<line x1="128.70" y1="205.90" x2="128.70" y2="399.60" stroke="#a4a4ff" stroke-width="1.20"/>
<line x1="171.60" y1="205.90" x2="171.60" y2="399.60" stroke="#a4a4ff" stroke-width="1.20"/>
<g clip-path="url(#clipB)" fill="none" stroke-linecap="round">
<path d="M28.40 258.01C29.81 258.03 34.03 257.74 36.85 258.16C39.67 258.59 42.48 259.62 45.30 260.56C48.12 261.49 50.93 262.88 53.75 263.78C56.57 264.68 59.43 265.79 62.20 265.95C64.98 266.10 67.67 265.68 70.40 264.72C73.13 263.76 75.87 261.81 78.60 260.19C81.33 258.56 84.07 256.33 86.80 255.00C89.53 253.66 92.23 252.54 95.00 252.19C97.77 251.85 100.62 252.86 103.42 252.93C106.23 252.99 109.04 252.86 111.85 252.61C114.66 252.35 117.47 251.84 120.27 251.42C123.08 251.00 125.51 250.32 128.70 250.06C131.89 249.81 135.85 249.62 139.42 249.88C143.00 250.14 146.57 250.89 150.15 251.62C153.72 252.35 157.30 253.49 160.88 254.26C164.45 255.04 168.45 255.66 171.60 256.26C174.75 256.86 177.07 257.18 179.80 257.86C182.53 258.54 185.27 259.61 188.00 260.34C190.73 261.07 193.47 261.89 196.20 262.24C198.93 262.60 203.03 262.42 204.40 262.46" stroke="#f8bb4a" stroke-width="1.10"/>
<path d="M28.40 246.96C29.81 247.05 34.03 247.45 36.85 247.46C39.67 247.46 42.48 247.25 45.30 246.98C48.12 246.70 50.93 246.20 53.75 245.81C56.57 245.42 59.43 244.91 62.20 244.64C64.98 244.37 67.67 244.34 70.40 244.19C73.13 244.05 75.87 243.87 78.60 243.78C81.33 243.69 84.07 243.63 86.80 243.65C89.53 243.66 92.23 243.87 95.00 243.87C97.77 243.86 100.62 243.88 103.42 243.64C106.23 243.39 109.04 242.86 111.85 242.41C114.66 241.95 117.47 241.30 120.27 240.90C123.08 240.49 125.51 240.34 128.70 239.99C131.89 239.64 135.85 239.19 139.42 238.80C143.00 238.40 146.57 237.90 150.15 237.62C153.72 237.35 157.30 237.15 160.88 237.15C164.45 237.16 168.45 237.58 171.60 237.67C174.75 237.76 177.07 237.87 179.80 237.69C182.53 237.50 185.27 237.02 188.00 236.56C190.73 236.10 193.47 235.41 196.20 234.95C198.93 234.49 203.03 233.99 204.40 233.79" stroke="#f8bb4a" stroke-width="1.10"/>
<path d="M28.40 240.57C29.81 240.48 34.03 240.00 36.85 240.02C39.67 240.04 42.48 240.33 45.30 240.70C48.12 241.06 50.93 241.72 53.75 242.21C56.57 242.71 59.43 243.48 62.20 243.67C64.98 243.86 67.67 243.67 70.40 243.36C73.13 243.05 75.87 242.38 78.60 241.81C81.33 241.24 84.07 240.43 86.80 239.93C89.53 239.44 92.23 239.39 95.00 238.83C97.77 238.27 100.62 237.79 103.42 236.59C106.23 235.40 109.04 233.26 111.85 231.64C114.66 230.02 117.47 227.96 120.27 226.87C123.08 225.77 125.51 225.50 128.70 225.08C131.89 224.65 135.85 224.44 139.42 224.33C143.00 224.22 146.57 224.26 150.15 224.42C153.72 224.57 157.30 224.95 160.88 225.29C164.45 225.62 168.45 226.62 171.60 226.43C174.75 226.25 177.07 225.33 179.80 224.18C182.53 223.04 185.27 221.05 188.00 219.56C190.73 218.08 193.47 216.23 196.20 215.28C198.93 214.33 203.03 214.08 204.40 213.84" stroke="#f8bb4a" stroke-width="1.10"/>
<path d="M28.40 233.41C29.81 233.10 34.03 232.30 36.85 231.57C39.67 230.83 42.48 229.72 45.30 228.99C48.12 228.26 50.93 227.48 53.75 227.19C56.57 226.89 59.43 227.28 62.20 227.21C64.98 227.13 67.67 226.85 70.40 226.72C73.13 226.60 75.87 226.49 78.60 226.47C81.33 226.44 84.07 226.49 86.80 226.59C89.53 226.68 92.23 227.25 95.00 227.01C97.77 226.78 100.62 226.55 103.42 225.17C106.23 223.79 109.04 221.01 111.85 218.73C114.66 216.44 117.47 213.32 120.27 211.47C123.08 209.62 125.51 208.60 128.70 207.64C131.89 206.68 135.85 206.53 139.42 205.70C143.00 204.87 146.57 203.57 150.15 202.68C153.72 201.79 157.30 200.79 160.88 200.36C164.45 199.93 168.45 200.17 171.60 200.09C174.75 200.01 177.07 199.94 179.80 199.89C182.53 199.85 185.27 199.81 188.00 199.81C190.73 199.81 193.47 199.85 196.20 199.89C198.93 199.94 203.03 200.06 204.40 200.09" stroke="#f8bb4a" stroke-width="1.10"/>
<path d="M28.40 231.86C29.81 231.76 34.03 231.76 36.85 231.31C39.67 230.86 42.48 229.93 45.30 229.15C48.12 228.37 50.93 227.30 53.75 226.65C56.57 226.00 59.43 225.47 62.20 225.27C64.98 225.07 67.67 225.58 70.40 225.47C73.13 225.35 75.87 224.97 78.60 224.58C81.33 224.20 84.07 223.57 86.80 223.14C89.53 222.70 92.23 222.83 95.00 221.98C97.77 221.12 100.62 220.01 103.42 218.01C106.23 216.00 109.04 212.53 111.85 209.95C114.66 207.37 117.47 204.17 120.27 202.53C123.08 200.88 125.51 200.57 128.70 200.09C131.89 199.60 135.85 199.83 139.42 199.62C143.00 199.42 146.57 199.09 150.15 198.86C153.72 198.64 157.30 198.37 160.88 198.25C164.45 198.14 168.45 198.33 171.60 198.15C174.75 197.98 177.07 197.42 179.80 197.19C182.53 196.97 185.27 196.79 188.00 196.79C190.73 196.79 193.47 196.97 196.20 197.19C198.93 197.42 203.03 197.99 204.40 198.15" stroke="#f8bb4a" stroke-width="1.10"/>
<path d="M28.40 223.14C29.81 222.95 34.03 222.45 36.85 222.00C39.67 221.55 42.48 220.88 45.30 220.45C48.12 220.02 50.93 219.56 53.75 219.40C56.57 219.23 59.43 219.76 62.20 219.46C64.98 219.16 67.67 218.32 70.40 217.60C73.13 216.87 75.87 215.81 78.60 215.12C81.33 214.44 84.07 213.73 86.80 213.49C89.53 213.24 92.23 214.02 95.00 213.65C97.77 213.27 100.62 212.56 103.42 211.23C106.23 209.91 109.04 207.52 111.85 205.69C114.66 203.87 117.47 201.53 120.27 200.28C123.08 199.02 125.51 198.58 128.70 198.15C131.89 197.73 135.85 197.82 139.42 197.72C143.00 197.61 146.57 197.54 150.15 197.54C153.72 197.54 157.30 197.61 160.88 197.72C164.45 197.82 168.45 198.12 171.60 198.15C174.75 198.18 177.07 197.96 179.80 197.91C182.53 197.85 185.27 197.80 188.00 197.80C190.73 197.80 193.47 197.85 196.20 197.91C198.93 197.96 203.03 198.11 204.40 198.15" stroke="#f8bb4a" stroke-width="1.10"/>
<path d="M28.40 218.30C29.81 218.08 34.03 217.92 36.85 217.01C39.67 216.10 42.48 214.31 45.30 212.85C48.12 211.39 50.93 209.40 53.75 208.24C56.57 207.09 59.43 206.60 62.20 205.90C64.98 205.20 67.67 204.77 70.40 204.05C73.13 203.33 75.87 202.26 78.60 201.58C81.33 200.89 84.07 200.19 86.80 199.94C89.53 199.69 92.23 200.04 95.00 200.09C97.77 200.14 100.62 200.28 103.42 200.22C106.23 200.15 109.04 199.93 111.85 199.70C114.66 199.47 117.47 199.10 120.27 198.85C123.08 198.59 125.51 198.37 128.70 198.15C131.89 197.93 135.85 197.68 139.42 197.54C143.00 197.39 146.57 197.28 150.15 197.28C153.72 197.28 157.30 197.39 160.88 197.54C164.45 197.68 168.45 198.22 171.60 198.15C174.75 198.09 177.07 197.39 179.80 197.16C182.53 196.92 185.27 196.74 188.00 196.74C190.73 196.74 193.47 196.92 196.20 197.16C198.93 197.39 203.03 197.99 204.40 198.15" stroke="#f8bb4a" stroke-width="1.10"/>
<path d="M28.40 219.07C29.81 219.03 34.03 218.84 36.85 218.80C39.67 218.75 42.48 218.75 45.30 218.80C48.12 218.84 50.93 218.96 53.75 219.07C56.57 219.18 59.43 219.69 62.20 219.46C64.98 219.23 67.67 218.96 70.40 217.69C73.13 216.42 75.87 213.91 78.60 211.85C81.33 209.80 84.07 207.00 86.80 205.36C89.53 203.73 92.23 202.80 95.00 202.03C97.77 201.26 100.62 201.24 103.42 200.75C106.23 200.26 109.04 199.54 111.85 199.08C114.66 198.62 117.47 198.16 120.27 198.01C123.08 197.85 125.51 198.19 128.70 198.15C131.89 198.12 135.85 197.87 139.42 197.78C143.00 197.70 146.57 197.63 150.15 197.63C153.72 197.63 157.30 197.70 160.88 197.78C164.45 197.87 168.45 197.98 171.60 198.15C174.75 198.33 177.07 198.68 179.80 198.84C182.53 199.00 185.27 199.13 188.00 199.13C190.73 199.13 193.47 199.00 196.20 198.84C198.93 198.68 203.03 198.27 204.40 198.15" stroke="#f8bb4a" stroke-width="1.10"/>
<path d="M28.40 210.36C29.81 210.32 34.03 210.58 36.85 210.12C39.67 209.66 42.48 208.57 45.30 207.59C48.12 206.61 50.93 205.16 53.75 204.23C56.57 203.31 59.43 202.50 62.20 202.03C64.98 201.55 67.67 201.73 70.40 201.39C73.13 201.05 75.87 200.45 78.60 199.99C81.33 199.53 84.07 198.96 86.80 198.65C89.53 198.34 92.23 198.06 95.00 198.15C97.77 198.24 100.62 198.94 103.42 199.18C106.23 199.42 109.04 199.60 111.85 199.60C114.66 199.60 117.47 199.42 120.27 199.18C123.08 198.94 125.51 198.48 128.70 198.15C131.89 197.83 135.85 197.44 139.42 197.22C143.00 197.00 146.57 196.83 150.15 196.83C153.72 196.83 157.30 197.00 160.88 197.22C164.45 197.44 168.45 198.00 171.60 198.15C174.75 198.30 177.07 198.14 179.80 198.14C182.53 198.13 185.27 198.13 188.00 198.13C190.73 198.13 193.47 198.13 196.20 198.14C198.93 198.14 203.03 198.15 204.40 198.15" stroke="#f8bb4a" stroke-width="1.10"/>
<path d="M28.40 236.89C29.81 236.41 34.03 235.64 36.85 234.02C39.67 232.39 42.48 229.44 45.30 227.15C48.12 224.87 50.93 221.93 53.75 220.32C56.57 218.72 59.43 217.88 62.20 217.52C64.98 217.16 67.67 217.86 70.40 218.15C73.13 218.43 75.87 218.91 78.60 219.26C81.33 219.60 84.07 220.01 86.80 220.20C89.53 220.40 92.23 220.94 95.00 220.43C97.77 219.91 100.62 218.87 103.42 217.10C106.23 215.32 109.04 212.16 111.85 209.76C114.66 207.36 117.47 204.33 120.27 202.71C123.08 201.10 125.51 200.73 128.70 200.09C131.89 199.45 135.85 199.27 139.42 198.89C143.00 198.52 146.57 198.06 150.15 197.83C153.72 197.60 157.30 197.47 160.88 197.52C164.45 197.58 168.45 197.98 171.60 198.15C174.75 198.33 177.07 198.47 179.80 198.57C182.53 198.67 185.27 198.75 188.00 198.75C190.73 198.75 193.47 198.67 196.20 198.57C198.93 198.47 203.03 198.22 204.40 198.15" stroke="#f8bb4a" stroke-width="1.10"/>
<path d="M28.40 213.65C29.81 214.12 34.03 214.96 36.85 216.48C39.67 218.00 42.48 220.70 45.30 222.76C48.12 224.81 50.93 227.42 53.75 228.80C56.57 230.19 59.43 231.06 62.20 231.08C64.98 231.10 67.67 230.09 70.40 228.91C73.13 227.74 75.87 225.64 78.60 224.05C81.33 222.45 84.07 220.41 86.80 219.33C89.53 218.24 92.23 218.22 95.00 217.52C97.77 216.82 100.62 216.64 103.42 215.13C106.23 213.62 109.04 210.75 111.85 208.47C114.66 206.18 117.47 203.15 120.27 201.43C123.08 199.71 125.51 198.73 128.70 198.15C131.89 197.57 135.85 197.99 139.42 197.94C143.00 197.89 146.57 197.86 150.15 197.86C153.72 197.86 157.30 197.89 160.88 197.94C164.45 197.99 168.45 198.13 171.60 198.15C174.75 198.17 177.07 198.08 179.80 198.06C182.53 198.04 185.27 198.02 188.00 198.02C190.73 198.02 193.47 198.04 196.20 198.06C198.93 198.08 203.03 198.14 204.40 198.15" stroke="#f8bb4a" stroke-width="1.10"/>
<path d="M28.40 235.73C29.81 235.98 34.03 236.43 36.85 237.22C39.67 238.00 42.48 239.39 45.30 240.44C48.12 241.49 50.93 242.82 53.75 243.52C56.57 244.22 59.43 244.84 62.20 244.64C64.98 244.44 67.67 243.48 70.40 242.32C73.13 241.16 75.87 239.16 78.60 237.67C81.33 236.19 84.07 234.36 86.80 233.42C89.53 232.48 92.23 232.37 95.00 232.05C97.77 231.73 100.62 231.78 103.42 231.49C106.23 231.20 109.04 230.68 111.85 230.29C114.66 229.91 117.47 229.42 120.27 229.16C123.08 228.91 125.51 228.48 128.70 228.76C131.89 229.03 135.85 230.02 139.42 230.82C143.00 231.62 146.57 232.79 150.15 233.55C153.72 234.30 157.30 235.07 160.88 235.34C164.45 235.61 168.45 235.26 171.60 235.15C174.75 235.04 177.07 234.50 179.80 234.70C182.53 234.89 185.27 235.59 188.00 236.32C190.73 237.06 193.47 238.24 196.20 239.08C198.93 239.92 203.03 240.97 204.40 241.35" stroke="#4848ee" stroke-width="0.90" stroke-opacity="0.75"/>
<path d="M28.40 226.24C29.81 226.23 34.03 226.36 36.85 226.21C39.67 226.06 42.48 225.69 45.30 225.34C48.12 225.00 50.93 224.49 53.75 224.15C56.57 223.82 59.43 223.54 62.20 223.33C64.98 223.12 67.67 223.21 70.40 222.90C73.13 222.58 75.87 221.97 78.60 221.47C81.33 220.96 84.07 220.28 86.80 219.88C89.53 219.48 92.23 219.23 95.00 219.07C97.77 218.91 100.62 219.10 103.42 218.94C106.23 218.78 109.04 218.41 111.85 218.09C114.66 217.77 117.47 217.31 120.27 217.02C123.08 216.73 125.51 216.54 128.70 216.36C131.89 216.18 135.85 215.78 139.42 215.92C143.00 216.06 146.57 216.62 150.15 217.21C153.72 217.81 157.30 218.78 160.88 219.48C164.45 220.18 168.45 221.31 171.60 221.40C174.75 221.48 177.07 220.38 179.80 219.99C182.53 219.60 185.27 219.20 188.00 219.06C190.73 218.93 193.47 218.97 196.20 219.17C198.93 219.36 203.03 220.06 204.40 220.23" stroke="#4848ee" stroke-width="0.90" stroke-opacity="0.75"/>
<path d="M28.40 220.62C29.81 220.45 34.03 220.16 36.85 219.57C39.67 218.98 42.48 217.91 45.30 217.09C48.12 216.27 50.93 215.21 53.75 214.64C56.57 214.06 59.43 213.93 62.20 213.65C64.98 213.36 67.67 213.43 70.40 212.93C73.13 212.43 75.87 211.44 78.60 210.64C81.33 209.84 84.07 208.76 86.80 208.13C89.53 207.50 92.23 207.06 95.00 206.87C97.77 206.68 100.62 207.29 103.42 206.98C106.23 206.68 109.04 205.84 111.85 205.04C114.66 204.24 117.47 203.01 120.27 202.19C123.08 201.36 125.51 200.26 128.70 200.09C131.89 199.92 135.85 200.20 139.42 201.19C143.00 202.18 146.57 204.26 150.15 206.01C153.72 207.77 157.30 210.24 160.88 211.74C164.45 213.23 168.45 214.40 171.60 215.00C174.75 215.61 177.07 215.46 179.80 215.37C182.53 215.27 185.27 214.87 188.00 214.44C190.73 214.00 193.47 213.28 196.20 212.76C198.93 212.24 203.03 211.56 204.40 211.32" stroke="#4848ee" stroke-width="0.90" stroke-opacity="0.75"/>
<path d="M28.40 213.45C29.81 213.37 34.03 213.19 36.85 212.93C39.67 212.67 42.48 212.24 45.30 211.92C48.12 211.60 50.93 211.21 53.75 211.01C56.57 210.82 59.43 210.93 62.20 210.74C64.98 210.55 67.67 210.51 70.40 209.88C73.13 209.25 75.87 208.00 78.60 206.97C81.33 205.94 84.07 204.54 86.80 203.72C89.53 202.89 92.23 202.28 95.00 202.03C97.77 201.78 100.62 202.26 103.42 202.21C106.23 202.16 109.04 201.95 111.85 201.72C114.66 201.49 117.47 201.12 120.27 200.84C123.08 200.57 125.51 200.01 128.70 200.09C131.89 200.17 135.85 200.75 139.42 201.33C143.00 201.91 146.57 202.86 150.15 203.55C153.72 204.23 157.30 205.05 160.88 205.44C164.45 205.83 168.45 205.82 171.60 205.90C174.75 205.98 177.07 206.18 179.80 205.89C182.53 205.61 185.27 204.88 188.00 204.19C190.73 203.51 193.47 202.47 196.20 201.79C198.93 201.10 203.03 200.37 204.40 200.09" stroke="#4848ee" stroke-width="0.90" stroke-opacity="0.75"/>
<path d="M28.40 208.81C29.81 208.85 34.03 209.35 36.85 209.08C39.67 208.82 42.48 208.01 45.30 207.21C48.12 206.41 50.93 205.15 53.75 204.29C56.57 203.42 59.43 202.47 62.20 202.03C64.98 201.59 67.67 201.83 70.40 201.65C73.13 201.46 75.87 201.15 78.60 200.92C81.33 200.69 84.07 200.41 86.80 200.28C89.53 200.14 92.23 200.07 95.00 200.09C97.77 200.11 100.62 199.96 103.42 200.41C106.23 200.87 109.04 201.90 111.85 202.82C114.66 203.73 117.47 205.06 120.27 205.89C123.08 206.73 125.51 207.77 128.70 207.84C131.89 207.90 135.85 207.04 139.42 206.30C143.00 205.56 146.57 204.31 150.15 203.39C153.72 202.48 157.30 201.37 160.88 200.82C164.45 200.27 168.45 199.98 171.60 200.09C174.75 200.20 177.07 200.96 179.80 201.47C182.53 201.99 185.27 202.73 188.00 203.18C190.73 203.64 193.47 204.08 196.20 204.21C198.93 204.34 203.03 204.00 204.40 203.96" stroke="#4848ee" stroke-width="0.90" stroke-opacity="0.75"/>
<path d="M28.40 217.52C29.81 217.81 34.03 218.09 36.85 219.26C39.67 220.43 42.48 222.69 45.30 224.52C48.12 226.35 50.93 228.80 53.75 230.22C56.57 231.63 59.43 232.56 62.20 233.02C64.98 233.48 67.67 233.41 70.40 232.97C73.13 232.53 75.87 231.42 78.60 230.39C81.33 229.37 84.07 227.82 86.80 226.80C89.53 225.79 92.23 225.27 95.00 224.30C97.77 223.33 100.62 222.96 103.42 221.00C106.23 219.04 109.04 215.39 111.85 212.54C114.66 209.69 117.47 205.95 120.27 203.88C123.08 201.80 125.51 200.87 128.70 200.09C131.89 199.31 135.85 199.40 139.42 199.19C143.00 198.98 146.57 198.82 150.15 198.82C153.72 198.82 157.30 198.98 160.88 199.19C164.45 199.40 168.45 200.13 171.60 200.09C174.75 200.05 177.07 199.21 179.80 198.94C182.53 198.66 185.27 198.46 188.00 198.46C190.73 198.46 193.47 198.66 196.20 198.94C198.93 199.21 203.03 199.90 204.40 200.09" stroke="#4848ee" stroke-width="0.90" stroke-opacity="0.75"/>
<path d="M28.40 340.72C29.81 340.78 34.03 340.94 36.85 341.10C39.67 341.27 42.48 341.54 45.30 341.72C48.12 341.90 50.93 342.11 53.75 342.20C56.57 342.29 59.43 342.18 62.20 342.26C64.98 342.35 67.67 341.98 70.40 342.71C73.13 343.44 75.87 345.14 78.60 346.64C81.33 348.15 84.07 350.35 86.80 351.75C89.53 353.15 92.23 354.59 95.00 355.05C97.77 355.50 100.62 354.81 103.42 354.49C106.23 354.17 109.04 353.58 111.85 353.12C114.66 352.66 117.47 352.07 120.27 351.75C123.08 351.42 125.51 351.14 128.70 351.18C131.89 351.21 135.85 351.48 139.42 351.96C143.00 352.43 146.57 353.33 150.15 354.04C153.72 354.75 157.30 355.68 160.88 356.20C164.45 356.73 168.45 357.26 171.60 357.18C174.75 357.10 177.07 356.43 179.80 355.70C182.53 354.97 185.27 353.73 188.00 352.81C190.73 351.90 193.47 350.78 196.20 350.22C198.93 349.66 203.03 349.56 204.40 349.43" stroke="#f8bb4a" stroke-width="1.05"/>
<path d="M28.40 339.94C29.81 340.01 34.03 340.16 36.85 340.33C39.67 340.50 42.48 340.76 45.30 340.94C48.12 341.13 50.93 341.33 53.75 341.43C56.57 341.52 59.43 341.40 62.20 341.49C64.98 341.58 67.67 341.21 70.40 341.94C73.13 342.67 75.87 344.36 78.60 345.87C81.33 347.38 84.07 349.58 86.80 350.98C89.53 352.38 92.23 353.82 95.00 354.27C97.77 354.73 100.62 354.03 103.42 353.71C106.23 353.39 109.04 352.80 111.85 352.35C114.66 351.89 117.47 351.30 120.27 350.97C123.08 350.65 125.51 350.37 128.70 350.40C131.89 350.43 135.85 350.70 139.42 351.18C143.00 351.66 146.57 352.56 150.15 353.26C153.72 353.97 157.30 354.90 160.88 355.43C164.45 355.95 168.45 356.49 171.60 356.40C174.75 356.32 177.07 355.65 179.80 354.92C182.53 354.20 185.27 352.95 188.00 352.04C190.73 351.13 193.47 350.01 196.20 349.44C198.93 348.88 203.03 348.79 204.40 348.66" stroke="#4848ee" stroke-width="0.90" stroke-opacity="0.85"/>
<path d="M28.40 346.91C29.81 346.67 34.03 345.62 36.85 345.46C39.67 345.31 42.48 345.54 45.30 346.00C48.12 346.45 50.93 347.40 53.75 348.20C56.57 349.00 59.43 350.33 62.20 350.79C64.98 351.24 67.67 350.51 70.40 350.92C73.13 351.33 75.87 352.33 78.60 353.25C81.33 354.16 84.07 355.52 86.80 356.40C89.53 357.28 92.23 358.16 95.00 358.54C97.77 358.91 100.62 358.62 103.42 358.65C106.23 358.67 109.04 358.69 111.85 358.69C114.66 358.69 117.47 358.67 120.27 358.65C123.08 358.62 125.51 358.66 128.70 358.54C131.89 358.41 135.85 357.94 139.42 357.89C143.00 357.83 146.57 357.96 150.15 358.18C153.72 358.41 157.30 358.87 160.88 359.26C164.45 359.64 168.45 360.46 171.60 360.47C174.75 360.48 177.07 359.78 179.80 359.32C182.53 358.85 185.27 358.16 188.00 357.70C190.73 357.25 193.47 356.76 196.20 356.58C198.93 356.39 203.03 356.60 204.40 356.60" stroke="#f8bb4a" stroke-width="1.05"/>
<path d="M28.40 345.36C29.81 345.12 34.03 344.07 36.85 343.91C39.67 343.76 42.48 343.99 45.30 344.45C48.12 344.90 50.93 345.85 53.75 346.65C56.57 347.45 59.43 348.78 62.20 349.24C64.98 349.69 67.67 348.96 70.40 349.37C73.13 349.78 75.87 350.78 78.60 351.70C81.33 352.61 84.07 353.97 86.80 354.85C89.53 355.73 92.23 356.61 95.00 356.99C97.77 357.36 100.62 357.07 103.42 357.10C106.23 357.12 109.04 357.14 111.85 357.14C114.66 357.14 117.47 357.12 120.27 357.10C123.08 357.07 125.51 357.11 128.70 356.99C131.89 356.86 135.85 356.39 139.42 356.34C143.00 356.28 146.57 356.41 150.15 356.63C153.72 356.86 157.30 357.32 160.88 357.71C164.45 358.09 168.45 358.91 171.60 358.92C174.75 358.93 177.07 358.23 179.80 357.77C182.53 357.31 185.27 356.61 188.00 356.15C190.73 355.70 193.47 355.21 196.20 355.03C198.93 354.84 203.03 355.05 204.40 355.05" stroke="#4848ee" stroke-width="0.90" stroke-opacity="0.85"/>
<path d="M28.40 353.50C29.81 353.60 34.03 353.96 36.85 354.10C39.67 354.24 42.48 354.35 45.30 354.35C48.12 354.35 50.93 354.24 53.75 354.10C56.57 353.96 59.43 353.56 62.20 353.50C64.98 353.44 67.67 353.22 70.40 353.75C73.13 354.28 75.87 355.55 78.60 356.69C81.33 357.83 84.07 359.52 86.80 360.60C89.53 361.68 92.23 362.97 95.00 363.18C97.77 363.40 100.62 362.18 103.42 361.87C106.23 361.56 109.04 361.33 111.85 361.33C114.66 361.33 117.47 361.56 120.27 361.87C123.08 362.18 125.51 363.04 128.70 363.18C131.89 363.33 135.85 362.84 139.42 362.74C143.00 362.63 146.57 362.55 150.15 362.55C153.72 362.55 157.30 362.63 160.88 362.74C164.45 362.84 168.45 363.41 171.60 363.18C174.75 362.96 177.07 361.79 179.80 361.37C182.53 360.94 185.27 360.61 188.00 360.61C190.73 360.61 193.47 360.94 196.20 361.37C198.93 361.79 203.03 362.88 204.40 363.18" stroke="#f8bb4a" stroke-width="1.05"/>
<path d="M28.40 351.18C29.81 351.28 34.03 351.63 36.85 351.78C39.67 351.92 42.48 352.02 45.30 352.02C48.12 352.02 50.93 351.92 53.75 351.78C56.57 351.63 59.43 351.23 62.20 351.18C64.98 351.12 67.67 350.89 70.40 351.43C73.13 351.96 75.87 353.22 78.60 354.37C81.33 355.51 84.07 357.19 86.80 358.27C89.53 359.36 92.23 360.65 95.00 360.86C97.77 361.07 100.62 359.86 103.42 359.55C106.23 359.24 109.04 359.00 111.85 359.00C114.66 359.00 117.47 359.24 120.27 359.55C123.08 359.86 125.51 360.72 128.70 360.86C131.89 361.00 135.85 360.52 139.42 360.41C143.00 360.31 146.57 360.23 150.15 360.23C153.72 360.23 157.30 360.31 160.88 360.41C164.45 360.52 168.45 361.09 171.60 360.86C174.75 360.63 177.07 359.47 179.80 359.04C182.53 358.61 185.27 358.29 188.00 358.29C190.73 358.29 193.47 358.61 196.20 359.04C198.93 359.47 203.03 360.56 204.40 360.86" stroke="#4848ee" stroke-width="0.90" stroke-opacity="0.85"/>
<path d="M28.40 355.82C29.81 356.25 34.03 357.58 36.85 358.37C39.67 359.16 42.48 360.10 45.30 360.56C48.12 361.02 50.93 361.25 53.75 361.11C56.57 360.97 59.43 359.79 62.20 359.70C64.98 359.60 67.67 360.06 70.40 360.55C73.13 361.03 75.87 361.92 78.60 362.60C81.33 363.29 84.07 364.17 86.80 364.66C89.53 365.14 92.23 365.46 95.00 365.51C97.77 365.56 100.62 365.09 103.42 364.96C106.23 364.83 109.04 364.73 111.85 364.73C114.66 364.73 117.47 364.83 120.27 364.96C123.08 365.09 125.51 365.26 128.70 365.51C131.89 365.76 135.85 366.13 139.42 366.45C143.00 366.76 146.57 367.18 150.15 367.40C153.72 367.63 157.30 367.81 160.88 367.82C164.45 367.82 168.45 367.33 171.60 367.45C174.75 367.56 177.07 368.36 179.80 368.51C182.53 368.67 185.27 368.62 188.00 368.39C190.73 368.16 193.47 367.62 196.20 367.14C198.93 366.66 203.03 365.78 204.40 365.51" stroke="#f8bb4a" stroke-width="1.05"/>
<path d="M28.40 355.05C29.81 355.47 34.03 356.81 36.85 357.60C39.67 358.39 42.48 359.33 45.30 359.79C48.12 360.24 50.93 360.48 53.75 360.34C56.57 360.19 59.43 359.02 62.20 358.92C64.98 358.83 67.67 359.29 70.40 359.77C73.13 360.26 75.87 361.14 78.60 361.83C81.33 362.51 84.07 363.40 86.80 363.88C89.53 364.37 92.23 364.68 95.00 364.73C97.77 364.78 100.62 364.31 103.42 364.18C106.23 364.05 109.04 363.95 111.85 363.95C114.66 363.95 117.47 364.05 120.27 364.18C123.08 364.31 125.51 364.49 128.70 364.73C131.89 364.98 135.85 365.36 139.42 365.67C143.00 365.99 146.57 366.40 150.15 366.63C153.72 366.86 157.30 367.04 160.88 367.04C164.45 367.05 168.45 366.56 171.60 366.67C174.75 366.79 177.07 367.58 179.80 367.74C182.53 367.89 185.27 367.84 188.00 367.61C190.73 367.38 193.47 366.85 196.20 366.37C198.93 365.89 203.03 365.01 204.40 364.73" stroke="#4848ee" stroke-width="0.90" stroke-opacity="0.85"/>
<path d="M28.40 362.41C29.81 362.37 34.03 362.05 36.85 362.19C39.67 362.32 42.48 362.77 45.30 363.23C48.12 363.69 50.93 364.42 53.75 364.93C56.57 365.44 59.43 365.87 62.20 366.28C64.98 366.70 67.67 366.86 70.40 367.40C73.13 367.95 75.87 368.89 78.60 369.57C81.33 370.26 84.07 371.09 86.80 371.51C89.53 371.93 92.23 371.84 95.00 372.09C97.77 372.35 100.62 372.82 103.42 373.04C106.23 373.27 109.04 373.44 111.85 373.44C114.66 373.44 117.47 373.27 120.27 373.04C123.08 372.82 125.51 371.89 128.70 372.09C131.89 372.30 135.85 373.66 139.42 374.26C143.00 374.87 146.57 375.50 150.15 375.73C153.72 375.95 157.30 375.91 160.88 375.63C164.45 375.35 168.45 374.67 171.60 374.03C174.75 373.40 177.07 372.44 179.80 371.83C182.53 371.21 185.27 370.58 188.00 370.35C190.73 370.12 193.47 370.17 196.20 370.46C198.93 370.75 203.03 371.82 204.40 372.09" stroke="#f8bb4a" stroke-width="1.05"/>
<path d="M28.40 360.86C29.81 360.82 34.03 360.50 36.85 360.64C39.67 360.77 42.48 361.22 45.30 361.68C48.12 362.14 50.93 362.87 53.75 363.38C56.57 363.89 59.43 364.32 62.20 364.73C64.98 365.15 67.67 365.31 70.40 365.85C73.13 366.40 75.87 367.34 78.60 368.02C81.33 368.71 84.07 369.54 86.80 369.96C89.53 370.38 92.23 370.29 95.00 370.55C97.77 370.80 100.62 371.27 103.42 371.49C106.23 371.72 109.04 371.89 111.85 371.89C114.66 371.89 117.47 371.72 120.27 371.49C123.08 371.27 125.51 370.34 128.70 370.55C131.89 370.75 135.85 372.11 139.42 372.71C143.00 373.32 146.57 373.95 150.15 374.18C153.72 374.40 157.30 374.36 160.88 374.08C164.45 373.80 168.45 373.12 171.60 372.48C174.75 371.85 177.07 370.89 179.80 370.28C182.53 369.67 185.27 369.03 188.00 368.80C190.73 368.57 193.47 368.62 196.20 368.91C198.93 369.20 203.03 370.27 204.40 370.55" stroke="#4848ee" stroke-width="0.90" stroke-opacity="0.85"/>
<path d="M28.40 370.93C29.81 371.13 34.03 371.64 36.85 372.11C39.67 372.57 42.48 373.27 45.30 373.73C48.12 374.18 50.93 374.67 53.75 374.85C56.57 375.03 59.43 374.69 62.20 374.81C64.98 374.92 67.67 375.64 70.40 375.52C73.13 375.41 75.87 374.81 78.60 374.12C81.33 373.44 84.07 372.27 86.80 371.42C89.53 370.56 92.23 368.97 95.00 369.00C97.77 369.02 100.62 370.50 103.42 371.58C106.23 372.66 109.04 374.34 111.85 375.49C114.66 376.63 117.47 377.90 120.27 378.43C123.08 378.96 125.51 378.42 128.70 378.68C131.89 378.94 135.85 379.57 139.42 379.97C143.00 380.37 146.57 380.84 150.15 381.07C153.72 381.30 157.30 381.42 160.88 381.34C164.45 381.26 168.45 381.08 171.60 380.62C174.75 380.15 177.07 379.22 179.80 378.55C182.53 377.87 185.27 377.01 188.00 376.55C190.73 376.10 193.47 375.77 196.20 375.81C198.93 375.84 203.03 376.59 204.40 376.74" stroke="#f8bb4a" stroke-width="1.05"/>
<path d="M28.40 368.61C29.81 368.80 34.03 369.32 36.85 369.78C39.67 370.25 42.48 370.95 45.30 371.40C48.12 371.86 50.93 372.34 53.75 372.52C56.57 372.70 59.43 372.37 62.20 372.48C64.98 372.60 67.67 373.31 70.40 373.20C73.13 373.09 75.87 372.48 78.60 371.80C81.33 371.11 84.07 369.95 86.80 369.09C89.53 368.24 92.23 366.64 95.00 366.67C97.77 366.70 100.62 368.17 103.42 369.25C106.23 370.34 109.04 372.02 111.85 373.16C114.66 374.30 117.47 375.57 120.27 376.10C123.08 376.64 125.51 376.10 128.70 376.36C131.89 376.61 135.85 377.25 139.42 377.65C143.00 378.05 146.57 378.52 150.15 378.75C153.72 378.98 157.30 379.09 160.88 379.02C164.45 378.94 168.45 378.76 171.60 378.29C174.75 377.83 177.07 376.90 179.80 376.22C182.53 375.54 185.27 374.68 188.00 374.23C190.73 373.77 193.47 373.45 196.20 373.48C198.93 373.51 203.03 374.26 204.40 374.42" stroke="#4848ee" stroke-width="0.90" stroke-opacity="0.85"/>
<path d="M28.40 377.13C29.81 377.21 34.03 377.77 36.85 377.59C39.67 377.42 42.48 376.77 45.30 376.08C48.12 375.40 50.93 374.28 53.75 373.48C56.57 372.69 59.43 371.34 62.20 371.32C64.98 371.30 67.67 372.51 70.40 373.37C73.13 374.24 75.87 375.58 78.60 376.49C81.33 377.41 84.07 378.42 86.80 378.85C89.53 379.28 92.23 378.71 95.00 379.07C97.77 379.43 100.62 380.45 103.42 381.01C106.23 381.56 109.04 382.15 111.85 382.38C114.66 382.60 117.47 382.60 120.27 382.38C123.08 382.15 125.51 380.93 128.70 381.00C131.89 381.08 135.85 381.83 139.42 382.83C143.00 383.83 146.57 385.62 150.15 386.99C153.72 388.36 157.30 390.11 160.88 391.05C164.45 391.99 168.45 392.45 171.60 392.63C174.75 392.81 177.07 392.81 179.80 392.13C182.53 391.44 185.27 389.88 188.00 388.51C190.73 387.14 193.47 385.16 196.20 383.91C198.93 382.66 203.03 381.49 204.40 381.00" stroke="#f8bb4a" stroke-width="1.05"/>
<path d="M28.40 376.36C29.81 376.43 34.03 376.99 36.85 376.82C39.67 376.64 42.48 375.99 45.30 375.31C48.12 374.62 50.93 373.50 53.75 372.71C56.57 371.91 59.43 370.56 62.20 370.55C64.98 370.53 67.67 371.74 70.40 372.60C73.13 373.46 75.87 374.81 78.60 375.72C81.33 376.63 84.07 377.65 86.80 378.08C89.53 378.51 92.23 377.93 95.00 378.29C97.77 378.65 100.62 379.68 103.42 380.23C106.23 380.78 109.04 381.37 111.85 381.60C114.66 381.83 117.47 381.83 120.27 381.60C123.08 381.37 125.51 380.15 128.70 380.23C131.89 380.31 135.85 381.06 139.42 382.06C143.00 383.05 146.57 384.85 150.15 386.22C153.72 387.59 157.30 389.33 160.88 390.27C164.45 391.21 168.45 391.67 171.60 391.85C174.75 392.03 177.07 392.04 179.80 391.35C182.53 390.67 185.27 389.11 188.00 387.74C190.73 386.37 193.47 384.38 196.20 383.13C198.93 381.88 203.03 380.71 204.40 380.23" stroke="#4848ee" stroke-width="0.90" stroke-opacity="0.85"/>
<path d="M28.40 381.78C29.81 381.98 34.03 382.51 36.85 382.99C39.67 383.46 42.48 384.17 45.30 384.62C48.12 385.08 50.93 385.55 53.75 385.73C56.57 385.90 59.43 385.83 62.20 385.65C64.98 385.48 67.67 384.92 70.40 384.69C73.13 384.46 75.87 384.29 78.60 384.29C81.33 384.29 84.07 384.46 86.80 384.69C89.53 384.92 92.23 385.74 95.00 385.65C97.77 385.57 100.62 384.44 103.42 384.19C106.23 383.94 109.04 383.92 111.85 384.15C114.66 384.38 117.47 384.99 120.27 385.56C123.08 386.13 125.51 387.48 128.70 387.59C131.89 387.70 135.85 386.54 139.42 386.22C143.00 385.89 146.57 385.65 150.15 385.65C153.72 385.65 157.30 385.89 160.88 386.22C164.45 386.54 168.45 387.05 171.60 387.59C174.75 388.14 177.07 389.04 179.80 389.49C182.53 389.93 185.27 390.27 188.00 390.27C190.73 390.27 193.47 389.93 196.20 389.49C198.93 389.04 203.03 387.91 204.40 387.59" stroke="#f8bb4a" stroke-width="1.05"/>
<path d="M28.40 380.23C29.81 380.43 34.03 380.96 36.85 381.44C39.67 381.91 42.48 382.62 45.30 383.07C48.12 383.53 50.93 384.01 53.75 384.18C56.57 384.35 59.43 384.28 62.20 384.10C64.98 383.93 67.67 383.37 70.40 383.14C73.13 382.91 75.87 382.74 78.60 382.74C81.33 382.74 84.07 382.91 86.80 383.14C89.53 383.37 92.23 384.19 95.00 384.10C97.77 384.02 100.62 382.89 103.42 382.64C106.23 382.39 109.04 382.37 111.85 382.60C114.66 382.83 117.47 383.44 120.27 384.01C123.08 384.58 125.51 385.93 128.70 386.04C131.89 386.15 135.85 384.99 139.42 384.67C143.00 384.34 146.57 384.10 150.15 384.10C153.72 384.10 157.30 384.34 160.88 384.67C164.45 384.99 168.45 385.50 171.60 386.04C174.75 386.59 177.07 387.49 179.80 387.94C182.53 388.39 185.27 388.72 188.00 388.72C190.73 388.72 193.47 388.39 196.20 387.94C198.93 387.49 203.03 386.36 204.40 386.04" stroke="#4848ee" stroke-width="0.90" stroke-opacity="0.85"/>
<path d="M28.40 388.37C29.81 388.59 34.03 389.12 36.85 389.72C39.67 390.32 42.48 391.30 45.30 391.98C48.12 392.67 50.93 393.46 53.75 393.83C56.57 394.19 59.43 394.45 62.20 394.18C64.98 393.90 67.67 392.84 70.40 392.18C73.13 391.51 75.87 390.67 78.60 390.21C81.33 389.76 84.07 389.42 86.80 389.44C89.53 389.45 92.23 389.74 95.00 390.30C97.77 390.86 100.62 392.01 103.42 392.79C106.23 393.56 109.04 394.50 111.85 394.95C114.66 395.41 117.47 395.66 120.27 395.53C123.08 395.40 125.51 394.15 128.70 394.18C131.89 394.20 135.85 395.23 139.42 395.68C143.00 396.13 146.57 396.64 150.15 396.87C153.72 397.10 157.30 397.18 160.88 397.05C164.45 396.92 168.45 396.31 171.60 396.11C174.75 395.92 177.07 396.02 179.80 395.87C182.53 395.72 185.27 395.43 188.00 395.20C190.73 394.97 193.47 394.67 196.20 394.50C198.93 394.33 203.03 394.23 204.40 394.18" stroke="#f8bb4a" stroke-width="1.05"/>
<path d="M28.40 386.04C29.81 386.27 34.03 386.79 36.85 387.39C39.67 388.00 42.48 388.97 45.30 389.66C48.12 390.34 50.93 391.14 53.75 391.50C56.57 391.87 59.43 392.13 62.20 391.85C64.98 391.58 67.67 390.51 70.40 389.85C73.13 389.19 75.87 388.34 78.60 387.89C81.33 387.43 84.07 387.10 86.80 387.11C89.53 387.13 92.23 387.42 95.00 387.98C97.77 388.54 100.62 389.69 103.42 390.46C106.23 391.24 109.04 392.17 111.85 392.63C114.66 393.09 117.47 393.33 120.27 393.20C123.08 393.07 125.51 391.83 128.70 391.85C131.89 391.88 135.85 392.91 139.42 393.36C143.00 393.80 146.57 394.32 150.15 394.55C153.72 394.77 157.30 394.85 160.88 394.72C164.45 394.60 168.45 393.99 171.60 393.79C174.75 393.59 177.07 393.70 179.80 393.55C182.53 393.39 185.27 393.11 188.00 392.88C190.73 392.65 193.47 392.35 196.20 392.18C198.93 392.01 203.03 391.91 204.40 391.85" stroke="#4848ee" stroke-width="0.90" stroke-opacity="0.85"/>
<path d="M28.40 392.63C29.81 392.57 34.03 392.63 36.85 392.26C39.67 391.89 42.48 391.09 45.30 390.40C48.12 389.72 50.93 388.75 53.75 388.15C56.57 387.55 59.43 386.97 62.20 386.82C64.98 386.66 67.67 386.64 70.40 387.21C73.13 387.77 75.87 389.06 78.60 390.20C81.33 391.35 84.07 393.00 86.80 394.05C89.53 395.10 92.23 396.24 95.00 396.50C97.77 396.76 100.62 395.82 103.42 395.60C106.23 395.39 109.04 395.23 111.85 395.23C114.66 395.23 117.47 395.39 120.27 395.60C123.08 395.82 125.51 396.28 128.70 396.50C131.89 396.72 135.85 396.73 139.42 396.93C143.00 397.13 146.57 397.45 150.15 397.68C153.72 397.90 157.30 398.17 160.88 398.30C164.45 398.43 168.45 398.29 171.60 398.44C174.75 398.59 177.07 399.10 179.80 399.19C182.53 399.27 185.27 399.16 188.00 398.93C190.73 398.70 193.47 398.22 196.20 397.82C198.93 397.41 203.03 396.72 204.40 396.50" stroke="#f8bb4a" stroke-width="1.05"/>
<path d="M28.40 391.85C29.81 391.79 34.03 391.85 36.85 391.48C39.67 391.11 42.48 390.31 45.30 389.63C48.12 388.94 50.93 387.97 53.75 387.38C56.57 386.78 59.43 386.20 62.20 386.04C64.98 385.88 67.67 385.87 70.40 386.43C73.13 387.00 75.87 388.29 78.60 389.43C81.33 390.57 84.07 392.23 86.80 393.28C89.53 394.33 92.23 395.47 95.00 395.73C97.77 395.98 100.62 395.04 103.42 394.83C106.23 394.62 109.04 394.46 111.85 394.46C114.66 394.46 117.47 394.62 120.27 394.83C123.08 395.04 125.51 395.50 128.70 395.73C131.89 395.95 135.85 395.96 139.42 396.16C143.00 396.35 146.57 396.67 150.15 396.90C153.72 397.13 157.30 397.40 160.88 397.53C164.45 397.65 168.45 397.52 171.60 397.66C174.75 397.81 177.07 398.33 179.80 398.41C182.53 398.49 185.27 398.38 188.00 398.15C190.73 397.92 193.47 397.45 196.20 397.04C198.93 396.64 203.03 395.95 204.40 395.73" stroke="#4848ee" stroke-width="0.90" stroke-opacity="0.85"/>
<path d="M28.40 399.21C29.81 399.44 34.03 400.18 36.85 400.60C39.67 401.02 42.48 401.52 45.30 401.75C48.12 401.97 50.93 402.07 53.75 401.97C56.57 401.87 59.43 401.32 62.20 401.15C64.98 400.98 67.67 401.39 70.40 400.98C73.13 400.56 75.87 399.55 78.60 398.63C81.33 397.72 84.07 396.37 86.80 395.50C89.53 394.62 92.23 393.26 95.00 393.40C97.77 393.54 100.62 395.26 103.42 396.32C106.23 397.39 109.04 398.89 111.85 399.80C114.66 400.72 117.47 401.58 120.27 401.80C123.08 402.03 125.51 401.32 128.70 401.15C131.89 400.97 135.85 400.75 139.42 400.75C143.00 400.75 146.57 400.93 150.15 401.15C153.72 401.38 157.30 401.80 160.88 402.12C164.45 402.44 168.45 402.74 171.60 403.09C174.75 403.43 177.07 404.04 179.80 404.21C182.53 404.38 185.27 404.33 188.00 404.11C190.73 403.88 193.47 403.33 196.20 402.84C198.93 402.35 203.03 401.43 204.40 401.15" stroke="#f8bb4a" stroke-width="1.05"/>
<path d="M28.40 397.66C29.81 397.89 34.03 398.63 36.85 399.05C39.67 399.48 42.48 399.97 45.30 400.20C48.12 400.42 50.93 400.52 53.75 400.42C56.57 400.32 59.43 399.77 62.20 399.60C64.98 399.43 67.67 399.85 70.40 399.43C73.13 399.01 75.87 398.00 78.60 397.08C81.33 396.17 84.07 394.82 86.80 393.95C89.53 393.08 92.23 391.71 95.00 391.85C97.77 391.99 100.62 393.71 103.42 394.77C106.23 395.84 109.04 397.34 111.85 398.25C114.66 399.17 117.47 400.03 120.27 400.25C123.08 400.48 125.51 399.77 128.70 399.60C131.89 399.43 135.85 399.20 139.42 399.20C143.00 399.20 146.57 399.38 150.15 399.61C153.72 399.83 157.30 400.25 160.88 400.57C164.45 400.89 168.45 401.19 171.60 401.54C174.75 401.88 177.07 402.49 179.80 402.66C182.53 402.83 185.27 402.79 188.00 402.56C190.73 402.33 193.47 401.78 196.20 401.29C198.93 400.80 203.03 399.88 204.40 399.60" stroke="#4848ee" stroke-width="0.90" stroke-opacity="0.85"/>
<path d="M28.40 374.81C29.81 375.15 34.03 375.17 36.85 376.89C39.67 378.62 42.48 382.17 45.30 385.13C48.12 388.10 50.93 392.22 53.75 394.70C56.57 397.18 59.43 399.58 62.20 399.99C64.98 400.39 67.67 398.55 70.40 397.12C73.13 395.69 75.87 393.22 78.60 391.39C81.33 389.57 84.07 387.31 86.80 386.16C89.53 385.01 92.23 384.28 95.00 384.49C97.77 384.71 100.62 386.37 103.42 387.45C106.23 388.52 109.04 390.03 111.85 390.94C114.66 391.85 117.47 392.71 120.27 392.93C123.08 393.14 125.51 392.54 128.70 392.24C131.89 391.94 135.85 391.75 139.42 391.11C143.00 390.47 146.57 389.29 150.15 388.37C153.72 387.46 157.30 386.28 160.88 385.63C164.45 384.98 168.45 384.61 171.60 384.49C174.75 384.37 177.07 384.53 179.80 384.92C182.53 385.30 185.27 386.11 188.00 386.79C190.73 387.48 193.47 388.44 196.20 389.03C198.93 389.61 203.03 390.09 204.40 390.30" stroke="#f8bb4a" stroke-width="1.05"/>
<path d="M28.40 372.48C29.81 372.83 34.03 372.85 36.85 374.57C39.67 376.29 42.48 379.84 45.30 382.81C48.12 385.78 50.93 389.90 53.75 392.38C56.57 394.85 59.43 397.26 62.20 397.66C64.98 398.07 67.67 396.23 70.40 394.79C73.13 393.36 75.87 390.89 78.60 389.07C81.33 387.24 84.07 384.99 86.80 383.84C89.53 382.69 92.23 381.95 95.00 382.17C97.77 382.38 100.62 384.05 103.42 385.12C106.23 386.20 109.04 387.70 111.85 388.62C114.66 389.53 117.47 390.39 120.27 390.60C123.08 390.82 125.51 390.22 128.70 389.92C131.89 389.61 135.85 389.43 139.42 388.79C143.00 388.14 146.57 386.96 150.15 386.05C153.72 385.14 157.30 383.95 160.88 383.31C164.45 382.66 168.45 382.29 171.60 382.17C174.75 382.05 177.07 382.21 179.80 382.59C182.53 382.98 185.27 383.79 188.00 384.47C190.73 385.15 193.47 386.12 196.20 386.70C198.93 387.29 203.03 387.77 204.40 387.98" stroke="#4848ee" stroke-width="0.90" stroke-opacity="0.85"/>
<path d="M28.40 388.75C29.81 388.78 34.03 389.46 36.85 388.93C39.67 388.41 42.48 386.97 45.30 385.60C48.12 384.23 50.93 382.13 53.75 380.71C56.57 379.30 59.43 377.77 62.20 377.13C64.98 376.50 67.67 377.05 70.40 376.90C73.13 376.75 75.87 376.47 78.60 376.24C81.33 376.01 84.07 375.71 86.80 375.53C89.53 375.36 92.23 375.07 95.00 375.19C97.77 375.32 100.62 376.30 103.42 376.27C106.23 376.25 109.04 375.71 111.85 375.02C114.66 374.34 117.47 373.11 120.27 372.17C123.08 371.23 125.51 370.08 128.70 369.38C131.89 368.69 135.85 368.42 139.42 368.01C143.00 367.59 146.57 367.10 150.15 366.87C153.72 366.64 157.30 366.54 160.88 366.64C164.45 366.73 168.45 366.92 171.60 367.45C174.75 367.97 177.07 369.13 179.80 369.77C182.53 370.41 185.27 371.07 188.00 371.30C190.73 371.52 193.47 371.46 196.20 371.14C198.93 370.82 203.03 369.68 204.40 369.38" stroke="#f8bb4a" stroke-width="1.05"/>
<path d="M28.40 387.98C29.81 388.01 34.03 388.68 36.85 388.16C39.67 387.63 42.48 386.20 45.30 384.83C48.12 383.46 50.93 381.35 53.75 379.94C56.57 378.53 59.43 376.99 62.20 376.36C64.98 375.72 67.67 376.28 70.40 376.13C73.13 375.98 75.87 375.69 78.60 375.46C81.33 375.24 84.07 374.93 86.80 374.76C89.53 374.58 92.23 374.30 95.00 374.42C97.77 374.54 100.62 375.53 103.42 375.50C106.23 375.47 109.04 374.93 111.85 374.25C114.66 373.56 117.47 372.33 120.27 371.39C123.08 370.45 125.51 369.30 128.70 368.61C131.89 367.91 135.85 367.65 139.42 367.23C143.00 366.81 146.57 366.32 150.15 366.09C153.72 365.86 157.30 365.76 160.88 365.86C164.45 365.96 168.45 366.15 171.60 366.67C174.75 367.19 177.07 368.35 179.80 368.99C182.53 369.63 185.27 370.29 188.00 370.52C190.73 370.75 193.47 370.68 196.20 370.36C198.93 370.04 203.03 368.90 204.40 368.61" stroke="#4848ee" stroke-width="0.90" stroke-opacity="0.85"/>
</g>
<line x1="28.40" y1="205.90" x2="28.40" y2="399.60" stroke="#cfcfcf" stroke-width="1"/>
<line x1="204.40" y1="205.90" x2="204.40" y2="399.60" stroke="#cfcfcf" stroke-width="1"/>
<line x1="28.40" y1="205.90" x2="204.40" y2="205.90" stroke="#bdbdbd" stroke-width="1"/>
<line x1="28.40" y1="399.60" x2="204.40" y2="399.60" stroke="#dedede" stroke-width="1"/>
<clipPath id="clipC"><rect x="243.50" y="206.30" width="162.60" height="194.70"/></clipPath>
<line x1="243.50" y1="303.65" x2="406.10" y2="303.65" stroke="#e8eee8" stroke-width="0.90"/>
<line x1="296.50" y1="206.30" x2="296.50" y2="401.00" stroke="#9a9aff" stroke-width="1.00"/>
<line x1="322.70" y1="206.30" x2="322.70" y2="401.00" stroke="#9a9aff" stroke-width="1.00"/>
<line x1="360.50" y1="206.30" x2="360.50" y2="401.00" stroke="#9a9aff" stroke-width="1.00"/>
<g clip-path="url(#clipC)" fill="none" stroke-linecap="round">
<path d="M243.50 250.69C244.60 250.50 247.92 250.27 250.12 249.52C252.33 248.77 254.54 247.57 256.75 246.19C258.96 244.80 261.17 243.01 263.38 241.20C265.58 239.38 267.79 237.27 270.00 235.31C272.21 233.35 274.42 231.24 276.62 229.42C278.83 227.61 281.04 225.82 283.25 224.43C285.46 223.05 287.67 221.85 289.88 221.10C292.08 220.35 292.96 219.60 296.50 219.93C300.04 220.26 306.86 222.05 311.10 223.09C315.33 224.14 318.31 225.31 321.92 226.18C325.52 227.06 328.87 227.32 332.74 228.35C336.60 229.38 340.72 231.03 345.10 232.37C349.48 233.71 353.86 235.92 359.01 236.38C364.16 236.85 370.60 234.27 376.01 235.15C381.42 236.02 386.32 239.01 391.47 241.64C396.62 244.27 404.35 249.37 406.92 250.91" stroke="#4848ee" stroke-width="1.10"/>
<path d="M243.50 250.69C244.60 249.91 247.92 247.41 250.12 245.97C252.33 244.54 254.54 243.14 256.75 242.08C258.96 241.02 261.17 240.13 263.38 239.60C265.58 239.07 267.79 238.83 270.00 238.91C272.21 239.00 274.42 239.43 276.62 240.12C278.83 240.81 281.04 241.86 283.25 243.04C285.46 244.23 287.67 245.73 289.88 247.23C292.08 248.74 293.48 252.73 296.50 252.05C299.52 251.38 303.77 246.21 308.01 243.19C312.24 240.16 317.79 235.66 321.92 233.91C326.04 232.16 328.87 232.57 332.74 232.68C336.60 232.78 340.72 233.91 345.10 234.53C349.48 235.15 356.69 236.08 359.01 236.38" stroke="#4848ee" stroke-width="1.10"/>
<path d="M243.50 269.58C244.60 269.39 247.92 269.17 250.12 268.43C252.33 267.69 254.54 266.52 256.75 265.16C258.96 263.80 261.17 262.04 263.38 260.26C265.58 258.48 267.79 256.41 270.00 254.49C272.21 252.56 274.42 250.49 276.62 248.71C278.83 246.94 281.04 245.18 283.25 243.82C285.46 242.46 287.67 241.28 289.88 240.55C292.08 239.81 292.96 239.42 296.50 239.40C300.04 239.37 306.86 239.26 311.10 240.40C315.33 241.55 316.76 244.06 321.92 246.28C327.07 248.49 335.83 251.89 342.01 253.70C348.19 255.50 353.34 256.89 359.01 257.10C364.68 257.30 370.60 254.16 376.01 254.93C381.42 255.70 386.32 259.31 391.47 261.73C396.62 264.15 404.35 268.17 406.92 269.46" stroke="#f8bb4a" stroke-width="1.10"/>
<path d="M243.50 269.58C244.60 268.86 247.92 266.59 250.12 265.26C252.33 263.93 254.54 262.61 256.75 261.59C258.96 260.57 261.17 259.70 263.38 259.14C265.58 258.59 267.79 258.28 270.00 258.28C272.21 258.28 274.42 258.59 276.62 259.14C278.83 259.70 281.04 260.57 283.25 261.59C285.46 262.61 287.67 263.93 289.88 265.26C292.08 266.59 293.22 270.68 296.50 269.58C299.78 268.48 305.32 262.01 309.55 258.64C313.79 255.27 316.51 250.40 321.92 249.37C327.33 248.34 335.83 251.17 342.01 252.46C348.19 253.75 356.18 256.32 359.01 257.10" stroke="#f8bb4a" stroke-width="1.10"/>
<path d="M243.50 210.58C244.25 210.19 246.58 209.29 248.00 208.25C249.42 207.21 251.33 205.00 252.00 204.35" stroke="#4848ee" stroke-width="1.10"/>
<path d="M398.00 204.35C398.67 204.84 400.65 206.30 402.00 207.27C403.35 208.25 405.42 209.71 406.10 210.19" stroke="#4848ee" stroke-width="1.10"/>
<path d="M243.50 225.77C244.25 224.63 246.42 221.55 248.00 218.96C249.58 216.36 251.33 212.95 253.00 210.19C254.67 207.44 257.17 203.70 258.00 202.41" stroke="#f8bb4a" stroke-width="1.10"/>
<path d="M286.37 201.45C287.14 203.00 288.94 208.00 291.00 210.73C293.07 213.46 295.64 217.32 298.73 217.84C301.82 218.35 305.53 215.88 309.55 213.82C313.57 211.76 320.01 207.53 322.84 205.47C325.68 203.41 325.94 202.12 326.55 201.45" stroke="#f8bb4a" stroke-width="1.10"/>
<path d="M320.99 201.45C321.66 202.48 321.50 206.19 325.01 207.64C328.51 209.08 336.60 209.59 342.01 210.11C347.42 210.62 353.60 211.14 357.47 210.73C361.33 210.32 363.24 209.18 365.19 207.64C367.15 206.09 368.54 202.48 369.21 201.45" stroke="#f8bb4a" stroke-width="1.10"/>
<path d="M388.00 202.41C389.00 203.87 392.00 208.41 394.00 211.17C396.00 213.93 397.98 216.52 400.00 218.96C402.02 221.39 405.08 224.63 406.10 225.77" stroke="#f8bb4a" stroke-width="1.10"/>
<path d="M243.50 348.82C244.92 348.89 248.78 348.98 252.00 349.21C255.22 349.44 259.47 348.79 262.80 350.18C266.13 351.58 268.67 355.54 272.00 357.58C275.33 359.63 279.80 360.83 282.80 362.45C285.80 364.07 287.72 366.25 290.00 367.32C292.28 368.39 293.17 368.87 296.50 368.87C299.83 368.87 305.63 367.90 310.00 367.32C314.37 366.73 319.37 366.02 322.70 365.37C326.03 364.72 327.62 363.97 330.00 363.42C332.38 362.87 334.83 361.57 337.00 362.06C339.17 362.55 341.00 364.01 343.00 366.34C345.00 368.68 347.17 374.55 349.00 376.08C350.83 377.60 352.08 375.82 354.00 375.49C355.92 375.17 357.50 375.01 360.50 374.13C363.50 373.26 368.42 372.02 372.00 370.24C375.58 368.45 378.33 366.02 382.00 363.42C385.67 360.83 389.98 356.93 394.00 354.66C398.02 352.39 404.08 350.61 406.10 349.79" stroke="#4848ee" stroke-width="1.00"/>
<path d="M268.50 404.31C269.58 399.77 272.62 385.49 275.00 377.05C277.38 368.61 280.30 359.69 282.80 353.69C285.30 347.68 287.72 343.79 290.00 341.03C292.28 338.27 293.17 337.63 296.50 337.14C299.83 336.65 305.63 337.46 310.00 338.11C314.37 338.76 319.37 339.41 322.70 341.03C326.03 342.65 327.62 344.93 330.00 347.85C332.38 350.77 335.00 355.31 337.00 358.56C339.00 361.80 340.50 364.56 342.00 367.32C343.50 370.08 344.83 373.32 346.00 375.10C347.17 376.89 348.50 377.54 349.00 378.03" stroke="#4848ee" stroke-width="1.00"/>
<path d="M296.50 368.87C298.75 370.89 305.63 377.31 310.00 380.95C314.37 384.58 318.63 386.79 322.70 390.68C326.77 394.57 332.45 402.04 334.40 404.31" stroke="#4848ee" stroke-width="1.00"/>
<path d="M311.00 404.31C311.83 403.34 314.05 400.74 316.00 398.47C317.95 396.20 319.53 393.11 322.70 390.68C325.87 388.25 330.78 385.65 335.00 383.87C339.22 382.08 344.83 379.81 348.00 379.97C351.17 380.13 351.92 383.22 354.00 384.84C356.08 386.46 358.50 388.41 360.50 389.71C362.50 391.01 363.92 390.36 366.00 392.63C368.08 394.90 371.83 401.55 373.00 403.34" stroke="#4848ee" stroke-width="1.00"/>
<path d="M243.50 349.99C244.92 350.05 248.78 350.15 252.00 350.38C255.22 350.61 259.47 349.96 262.80 351.35C266.13 352.75 268.67 356.71 272.00 358.75C275.33 360.79 279.80 362.00 282.80 363.62C285.80 365.24 287.72 367.41 290.00 368.49C292.28 369.56 293.17 370.04 296.50 370.04C299.83 370.04 305.63 369.07 310.00 368.49C314.37 367.90 319.37 367.19 322.70 366.54C326.03 365.89 327.62 365.14 330.00 364.59C332.38 364.04 334.83 362.74 337.00 363.23C339.17 363.71 341.00 365.18 343.00 367.51C345.00 369.85 347.17 375.72 349.00 377.25C350.83 378.77 352.08 376.99 354.00 376.66C355.92 376.34 357.50 376.18 360.50 375.30C363.50 374.42 368.42 373.19 372.00 371.41C375.58 369.62 378.33 367.19 382.00 364.59C385.67 362.00 389.98 358.10 394.00 355.83C398.02 353.56 404.08 351.77 406.10 350.96" stroke="#f8bb4a" stroke-width="1.05"/>
<path d="M268.50 405.48C269.58 400.94 272.62 386.66 275.00 378.22C277.38 369.78 280.30 360.86 282.80 354.86C285.30 348.85 287.72 344.96 290.00 342.20C292.28 339.44 293.17 338.79 296.50 338.31C299.83 337.82 305.63 338.63 310.00 339.28C314.37 339.93 319.37 340.58 322.70 342.20C326.03 343.82 327.62 346.09 330.00 349.02C332.38 351.94 335.00 356.48 337.00 359.72C339.00 362.97 340.50 365.73 342.00 368.49C343.50 371.24 344.83 374.49 346.00 376.27C347.17 378.06 348.50 378.71 349.00 379.19" stroke="#f8bb4a" stroke-width="1.05"/>
<path d="M296.50 370.04C298.75 372.05 305.63 378.48 310.00 382.11C314.37 385.75 318.63 387.96 322.70 391.85C326.77 395.74 332.45 403.21 334.40 405.48" stroke="#f8bb4a" stroke-width="1.05"/>
<path d="M311.00 405.48C311.83 404.50 314.05 401.91 316.00 399.64C317.95 397.37 319.53 394.28 322.70 391.85C325.87 389.42 330.78 386.82 335.00 385.03C339.22 383.25 344.83 380.98 348.00 381.14C351.17 381.30 351.92 384.39 354.00 386.01C356.08 387.63 358.50 389.58 360.50 390.88C362.50 392.17 363.92 391.52 366.00 393.80C368.08 396.07 371.83 402.72 373.00 404.50" stroke="#f8bb4a" stroke-width="1.05"/>
<path d="M243.50 349.40C244.58 352.16 247.75 359.63 250.00 365.95C252.25 372.28 254.62 380.88 257.00 387.37C259.38 393.86 263.08 401.97 264.30 404.89" stroke="#f8bb4a" stroke-width="1.10"/>
<path d="M359.00 403.92C360.17 402.95 363.83 400.19 366.00 398.08C368.17 395.97 369.67 394.02 372.00 391.26C374.33 388.51 377.33 385.10 380.00 381.53C382.67 377.96 385.33 373.58 388.00 369.85C390.67 366.12 392.98 362.38 396.00 359.14C399.02 355.89 404.42 351.84 406.10 350.38" stroke="#f8bb4a" stroke-width="1.10"/>
</g>
<line x1="243.50" y1="206.30" x2="243.50" y2="401.00" stroke="#d0d0d0" stroke-width="1"/>
<line x1="406.10" y1="206.30" x2="406.10" y2="401.00" stroke="#d0d0d0" stroke-width="1"/>
<line x1="243.50" y1="206.30" x2="406.10" y2="206.30" stroke="#c4c4c4" stroke-width="1"/>
<line x1="243.50" y1="401.00" x2="406.10" y2="401.00" stroke="#9a9a9a" stroke-width="1"/>
<clipPath id="clipD"><rect x="447.50" y="205.70" width="97.10" height="194.90"/></clipPath>
<line x1="447.50" y1="303.15" x2="544.60" y2="303.15" stroke="#d0e4ca" stroke-width="0.90"/>
<line x1="471.80" y1="205.70" x2="471.80" y2="400.60" stroke="#a4a4ff" stroke-width="1.10"/>
<line x1="496.00" y1="205.70" x2="496.00" y2="400.60" stroke="#a4a4ff" stroke-width="1.10"/>
<line x1="520.50" y1="205.70" x2="520.50" y2="400.60" stroke="#a4a4ff" stroke-width="1.10"/>
<g clip-path="url(#clipD)" fill="none" stroke-linecap="round">
<path d="M447.50 245.85C448.51 246.29 451.55 247.06 453.57 248.51C455.60 249.95 457.62 252.54 459.65 254.52C461.67 256.49 463.70 259.01 465.73 260.36C467.75 261.71 469.78 262.60 471.80 262.61C473.82 262.62 475.83 261.64 477.85 260.43C479.87 259.23 481.88 257.04 483.90 255.37C485.92 253.69 487.93 251.54 489.95 250.37C491.97 249.21 493.97 248.79 496.00 248.38C498.03 247.98 500.08 247.92 502.12 247.93C504.17 247.93 506.21 248.15 508.25 248.42C510.29 248.70 512.33 249.20 514.38 249.58C516.42 249.96 518.48 250.55 520.50 250.72C522.52 250.89 524.52 250.91 526.52 250.61C528.53 250.30 530.54 249.57 532.55 248.90C534.56 248.24 536.57 247.25 538.58 246.61C540.58 245.97 543.60 245.33 544.60 245.07" stroke="#f8bb4a" stroke-width="1.15"/>
<path d="M447.50 250.72C448.51 250.77 451.55 251.04 453.57 250.99C455.60 250.93 457.62 250.69 459.65 250.41C461.67 250.13 463.70 249.67 465.73 249.33C467.75 248.99 469.78 248.41 471.80 248.38C473.82 248.36 475.83 249.07 477.85 249.16C479.87 249.26 481.88 249.18 483.90 248.97C485.92 248.77 487.93 248.32 489.95 247.92C491.97 247.53 493.97 246.64 496.00 246.63C498.03 246.62 500.08 247.43 502.12 247.85C504.17 248.26 506.21 248.79 508.25 249.09C510.29 249.39 512.33 249.63 514.38 249.64C516.42 249.65 518.48 249.20 520.50 249.16C522.52 249.13 524.52 249.63 526.52 249.42C528.53 249.20 530.54 248.53 532.55 247.87C534.56 247.20 536.57 246.15 538.58 245.42C540.58 244.70 543.60 243.83 544.60 243.51" stroke="#f8bb4a" stroke-width="1.15"/>
<path d="M447.50 237.27C448.51 237.55 451.55 238.25 453.57 238.94C455.60 239.64 457.62 240.73 459.65 241.46C461.67 242.20 463.70 243.01 465.73 243.35C467.75 243.70 469.78 243.60 471.80 243.51C473.82 243.42 475.83 243.19 477.85 242.80C479.87 242.40 481.88 241.68 483.90 241.13C485.92 240.58 487.93 239.87 489.95 239.49C491.97 239.11 493.97 239.19 496.00 238.83C498.03 238.47 500.08 237.82 502.12 237.33C504.17 236.83 506.21 236.19 508.25 235.84C510.29 235.50 512.33 235.25 514.38 235.26C516.42 235.27 518.48 235.80 520.50 235.91C522.52 236.02 524.52 235.77 526.52 235.91C528.53 236.05 530.54 236.42 532.55 236.77C534.56 237.11 536.57 237.63 538.58 237.98C540.58 238.32 543.60 238.69 544.60 238.83" stroke="#f8bb4a" stroke-width="1.15"/>
<path d="M447.50 235.52C448.51 235.65 451.55 235.93 453.57 236.27C455.60 236.61 457.62 237.16 459.65 237.56C461.67 237.95 463.70 238.40 465.73 238.62C467.75 238.83 469.78 238.88 471.80 238.83C473.82 238.79 475.83 238.69 477.85 238.33C479.87 237.97 481.88 237.27 483.90 236.69C485.92 236.12 487.93 235.34 489.95 234.88C491.97 234.43 493.97 234.24 496.00 233.96C498.03 233.68 500.08 233.49 502.12 233.20C504.17 232.90 506.21 232.47 508.25 232.19C510.29 231.92 512.33 231.64 514.38 231.54C516.42 231.45 518.48 231.58 520.50 231.62C522.52 231.66 524.52 231.82 526.52 231.78C528.53 231.74 530.54 231.57 532.55 231.38C534.56 231.20 536.57 230.89 538.58 230.67C540.58 230.45 543.60 230.16 544.60 230.06" stroke="#f8bb4a" stroke-width="1.15"/>
<path d="M447.50 233.96C448.51 234.09 451.55 234.62 453.57 234.76C455.60 234.90 457.62 234.92 459.65 234.80C461.67 234.69 463.70 234.37 465.73 234.07C467.75 233.77 469.78 233.43 471.80 232.99C473.82 232.54 475.83 232.04 477.85 231.38C479.87 230.71 481.88 229.69 483.90 229.00C485.92 228.31 487.93 227.55 489.95 227.24C491.97 226.93 493.97 227.18 496.00 227.14C498.03 227.10 500.08 227.00 502.12 227.02C504.17 227.04 506.21 227.15 508.25 227.26C510.29 227.38 512.33 227.57 514.38 227.71C516.42 227.85 518.48 228.00 520.50 228.11C522.52 228.23 524.52 228.52 526.52 228.40C528.53 228.28 530.54 227.83 532.55 227.37C534.56 226.92 536.57 226.17 538.58 225.64C540.58 225.12 543.60 224.45 544.60 224.22" stroke="#f8bb4a" stroke-width="1.15"/>
<path d="M447.50 228.31C448.51 228.49 451.55 229.08 453.57 229.37C455.60 229.66 457.62 229.95 459.65 230.04C461.67 230.13 463.70 230.08 465.73 229.92C467.75 229.76 469.78 229.17 471.80 229.09C473.82 229.00 475.83 229.53 477.85 229.41C479.87 229.30 481.88 228.86 483.90 228.40C485.92 227.94 487.93 227.19 489.95 226.65C491.97 226.12 493.97 225.65 496.00 225.19C498.03 224.73 500.08 224.29 502.12 223.89C504.17 223.49 506.21 223.01 508.25 222.78C510.29 222.55 512.33 222.44 514.38 222.51C516.42 222.59 518.48 223.07 520.50 223.24C522.52 223.41 524.52 223.66 526.52 223.54C528.53 223.41 530.54 222.97 532.55 222.52C534.56 222.06 536.57 221.31 538.58 220.78C540.58 220.25 543.60 219.58 544.60 219.34" stroke="#f8bb4a" stroke-width="1.15"/>
<path d="M447.50 225.19C448.51 225.03 451.55 224.67 453.57 224.20C455.60 223.73 457.62 222.94 459.65 222.36C461.67 221.79 463.70 221.10 465.73 220.75C467.75 220.41 469.78 220.59 471.80 220.32C473.82 220.05 475.83 219.46 477.85 219.14C479.87 218.81 481.88 218.48 483.90 218.37C485.92 218.25 487.93 218.29 489.95 218.45C491.97 218.61 493.97 219.09 496.00 219.34C498.03 219.59 500.08 219.94 502.12 219.94C504.17 219.94 506.21 219.68 508.25 219.33C510.29 218.99 512.33 218.36 514.38 217.87C516.42 217.39 518.48 216.67 520.50 216.42C522.52 216.17 524.52 216.49 526.52 216.39C528.53 216.28 530.54 216.03 532.55 215.80C534.56 215.57 536.57 215.23 538.58 215.01C540.58 214.79 543.60 214.56 544.60 214.47" stroke="#f8bb4a" stroke-width="1.15"/>
<path d="M447.50 210.57C448.51 210.65 451.55 210.80 453.57 211.05C455.60 211.31 457.62 211.76 459.65 212.11C461.67 212.45 463.70 212.89 465.73 213.12C467.75 213.35 469.78 213.68 471.80 213.50C473.82 213.31 475.83 212.55 477.85 212.01C479.87 211.46 481.88 210.71 483.90 210.25C485.92 209.79 487.93 209.36 489.95 209.25C491.97 209.14 493.97 209.40 496.00 209.60C498.03 209.79 500.08 210.18 502.12 210.43C504.17 210.67 506.21 210.94 508.25 211.06C510.29 211.17 512.33 211.20 514.38 211.12C516.42 211.04 518.48 210.67 520.50 210.57C522.52 210.48 524.52 210.73 526.52 210.53C528.53 210.34 530.54 209.84 532.55 209.38C534.56 208.92 536.57 208.23 538.58 207.78C540.58 207.33 543.60 206.86 544.60 206.67" stroke="#f8bb4a" stroke-width="1.15"/>
<path d="M447.50 230.84C448.51 231.09 451.55 231.67 453.57 232.34C455.60 233.01 457.62 234.09 459.65 234.84C461.67 235.60 463.70 236.48 465.73 236.89C467.75 237.29 469.78 237.15 471.80 237.27C473.82 237.40 475.83 237.76 477.85 237.64C479.87 237.52 481.88 237.04 483.90 236.54C485.92 236.03 487.93 235.20 489.95 234.61C491.97 234.02 493.97 233.40 496.00 232.99C498.03 232.57 500.08 232.48 502.12 232.12C504.17 231.75 506.21 231.18 508.25 230.79C510.29 230.40 512.33 229.96 514.38 229.77C516.42 229.59 518.48 229.76 520.50 229.67C522.52 229.59 524.52 229.26 526.52 229.26C528.53 229.26 530.54 229.43 532.55 229.66C534.56 229.89 536.57 230.31 538.58 230.64C540.58 230.96 543.60 231.46 544.60 231.62" stroke="#4848ee" stroke-width="1.15"/>
<path d="M447.50 226.75C448.51 226.92 451.55 227.25 453.57 227.80C455.60 228.36 457.62 229.33 459.65 230.07C461.67 230.80 463.70 231.73 465.73 232.21C467.75 232.70 469.78 232.76 471.80 232.99C473.82 233.21 475.83 233.58 477.85 233.58C479.87 233.57 481.88 233.31 483.90 232.97C485.92 232.62 487.93 231.99 489.95 231.51C491.97 231.03 493.97 230.43 496.00 230.06C498.03 229.70 500.08 229.59 502.12 229.33C504.17 229.08 506.21 228.73 508.25 228.52C510.29 228.31 512.33 228.13 514.38 228.09C516.42 228.06 518.48 228.41 520.50 228.31C522.52 228.20 524.52 227.77 526.52 227.47C528.53 227.17 530.54 226.75 532.55 226.50C534.56 226.24 536.57 226.01 538.58 225.96C540.58 225.90 543.60 226.13 544.60 226.16" stroke="#4848ee" stroke-width="1.15"/>
<path d="M447.50 222.85C448.51 222.92 451.55 222.92 453.57 223.28C455.60 223.64 457.62 224.38 459.65 225.00C461.67 225.62 463.70 226.49 465.73 227.00C467.75 227.52 469.78 227.94 471.80 228.11C473.82 228.29 475.83 228.22 477.85 228.06C479.87 227.91 481.88 227.53 483.90 227.19C485.92 226.84 487.93 226.33 489.95 226.00C491.97 225.66 493.97 225.49 496.00 225.19C498.03 224.89 500.08 224.51 502.12 224.18C504.17 223.84 506.21 223.41 508.25 223.18C510.29 222.96 512.33 222.79 514.38 222.80C516.42 222.81 518.48 223.19 520.50 223.24C522.52 223.29 524.52 223.08 526.52 223.10C528.53 223.11 530.54 223.21 532.55 223.32C534.56 223.44 536.57 223.64 538.58 223.78C540.58 223.93 543.60 224.14 544.60 224.22" stroke="#4848ee" stroke-width="1.15"/>
<path d="M447.50 220.32C448.51 220.33 451.55 220.29 453.57 220.40C455.60 220.52 457.62 220.78 459.65 221.01C461.67 221.24 463.70 221.57 465.73 221.78C467.75 221.99 469.78 222.30 471.80 222.27C473.82 222.24 475.83 221.95 477.85 221.61C479.87 221.26 481.88 220.65 483.90 220.19C485.92 219.73 487.93 219.15 489.95 218.85C491.97 218.55 493.97 218.33 496.00 218.37C498.03 218.41 500.08 218.88 502.12 219.10C504.17 219.32 506.21 219.57 508.25 219.69C510.29 219.80 512.33 219.85 514.38 219.79C516.42 219.73 518.48 219.40 520.50 219.34C522.52 219.29 524.52 219.42 526.52 219.44C528.53 219.46 530.54 219.48 532.55 219.48C534.56 219.48 536.57 219.46 538.58 219.44C540.58 219.42 543.60 219.36 544.60 219.34" stroke="#4848ee" stroke-width="1.15"/>
<path d="M447.50 218.95C448.51 218.81 451.55 218.36 453.57 218.08C455.60 217.79 457.62 217.44 459.65 217.26C461.67 217.07 463.70 216.95 465.73 216.97C467.75 217.00 469.78 217.42 471.80 217.39C473.82 217.37 475.83 217.02 477.85 216.85C479.87 216.67 481.88 216.45 483.90 216.33C485.92 216.22 487.93 216.14 489.95 216.16C491.97 216.17 493.97 216.30 496.00 216.42C498.03 216.54 500.08 216.74 502.12 216.90C504.17 217.06 506.21 217.27 508.25 217.39C510.29 217.50 512.33 217.59 514.38 217.59C516.42 217.59 518.48 217.57 520.50 217.39C522.52 217.22 524.52 216.79 526.52 216.55C528.53 216.30 530.54 216.02 532.55 215.91C534.56 215.80 536.57 215.77 538.58 215.86C540.58 215.94 543.60 216.33 544.60 216.42" stroke="#4848ee" stroke-width="1.15"/>
<path d="M447.50 216.42C448.51 216.25 451.55 215.72 453.57 215.39C455.60 215.05 457.62 214.62 459.65 214.39C461.67 214.16 463.70 213.99 465.73 214.01C467.75 214.02 469.78 214.25 471.80 214.47C473.82 214.69 475.83 215.18 477.85 215.33C479.87 215.49 481.88 215.52 483.90 215.41C485.92 215.29 487.93 214.96 489.95 214.65C491.97 214.33 493.97 213.59 496.00 213.50C498.03 213.41 500.08 214.01 502.12 214.11C504.17 214.21 506.21 214.19 508.25 214.08C510.29 213.96 512.33 213.68 514.38 213.42C516.42 213.16 518.48 212.55 520.50 212.52C522.52 212.50 524.52 213.05 526.52 213.27C528.53 213.50 530.54 213.76 532.55 213.87C534.56 213.99 536.57 214.03 538.58 213.96C540.58 213.90 543.60 213.57 544.60 213.50" stroke="#4848ee" stroke-width="1.15"/>
<path d="M447.50 214.08C448.51 214.20 451.55 214.74 453.57 214.78C455.60 214.82 457.62 214.63 459.65 214.33C461.67 214.03 463.70 213.45 465.73 212.99C467.75 212.52 469.78 211.90 471.80 211.55C473.82 211.19 475.83 211.06 477.85 210.85C479.87 210.63 481.88 210.38 483.90 210.27C485.92 210.15 487.93 210.11 489.95 210.16C491.97 210.21 493.97 210.60 496.00 210.57C498.03 210.54 500.08 210.20 502.12 209.96C504.17 209.72 506.21 209.37 508.25 209.14C510.29 208.91 512.33 208.67 514.38 208.59C516.42 208.50 518.48 208.59 520.50 208.62C522.52 208.66 524.52 208.67 526.52 208.81C528.53 208.95 530.54 209.23 532.55 209.46C534.56 209.69 536.57 210.01 538.58 210.19C540.58 210.38 543.60 210.51 544.60 210.57" stroke="#4848ee" stroke-width="1.15"/>
<path d="M447.50 211.74C448.51 211.48 451.55 210.71 453.57 210.19C455.60 209.68 457.62 209.01 459.65 208.64C461.67 208.27 463.70 207.99 465.73 207.99C467.75 207.99 469.78 208.49 471.80 208.62C473.82 208.76 475.83 208.80 477.85 208.80C479.87 208.79 481.88 208.70 483.90 208.58C485.92 208.47 487.93 208.26 489.95 208.11C491.97 207.95 493.97 207.64 496.00 207.65C498.03 207.66 500.08 208.09 502.12 208.17C504.17 208.25 506.21 208.22 508.25 208.10C510.29 207.99 512.33 207.72 514.38 207.48C516.42 207.24 518.48 206.63 520.50 206.67C522.52 206.72 524.52 207.42 526.52 207.73C528.53 208.05 530.54 208.41 532.55 208.57C534.56 208.73 536.57 208.78 538.58 208.70C540.58 208.61 543.60 208.15 544.60 208.04" stroke="#4848ee" stroke-width="1.15"/>
<path d="M447.50 208.62C448.51 208.63 451.55 208.77 453.57 208.69C455.60 208.61 457.62 208.38 459.65 208.15C461.67 207.92 463.70 207.56 465.73 207.31C467.75 207.07 469.78 206.93 471.80 206.67C473.82 206.42 475.83 206.04 477.85 205.79C479.87 205.53 481.88 205.25 483.90 205.13C485.92 205.02 487.93 205.00 489.95 205.10C491.97 205.19 493.97 205.69 496.00 205.70C498.03 205.71 500.08 205.40 502.12 205.18C504.17 204.96 506.21 204.62 508.25 204.39C510.29 204.16 512.33 203.91 514.38 203.80C516.42 203.69 518.48 203.53 520.50 203.75C522.52 203.98 524.52 204.68 526.52 205.15C528.53 205.62 530.54 206.24 532.55 206.59C534.56 206.93 536.57 207.20 538.58 207.22C540.58 207.23 543.60 206.77 544.60 206.67" stroke="#4848ee" stroke-width="1.15"/>
<path d="M447.50 206.28C448.51 206.25 451.55 206.24 453.57 206.06C455.60 205.88 457.62 205.52 459.65 205.23C461.67 204.93 463.70 204.52 465.73 204.27C467.75 204.02 469.78 203.65 471.80 203.75C473.82 203.85 475.83 204.57 477.85 204.89C479.87 205.21 481.88 205.53 483.90 205.65C485.92 205.76 487.93 205.73 489.95 205.58C491.97 205.43 493.97 204.98 496.00 204.73C498.03 204.47 500.08 204.33 502.12 204.03C504.17 203.72 506.21 203.22 508.25 202.88C510.29 202.54 512.33 202.14 514.38 201.96C516.42 201.78 518.48 201.64 520.50 201.80C522.52 201.96 524.52 202.56 526.52 202.92C528.53 203.28 530.54 203.72 532.55 203.95C534.56 204.18 536.57 204.33 538.58 204.30C540.58 204.26 543.60 203.84 544.60 203.75" stroke="#4848ee" stroke-width="1.15"/>
<path d="M447.50 342.52C448.51 342.62 451.55 342.92 453.57 343.10C455.60 343.29 457.62 343.52 459.65 343.63C461.67 343.75 463.70 343.82 465.73 343.79C467.75 343.77 469.78 343.56 471.80 343.49C473.82 343.43 475.83 343.38 477.85 343.38C479.87 343.39 481.88 343.44 483.90 343.51C485.92 343.58 487.93 343.70 489.95 343.80C491.97 343.89 493.97 344.13 496.00 344.08C498.03 344.03 500.08 343.66 502.12 343.47C504.17 343.28 506.21 343.05 508.25 342.94C510.29 342.82 512.33 342.76 514.38 342.78C516.42 342.81 518.48 342.91 520.50 343.10C522.52 343.30 524.52 343.41 526.52 343.94C528.53 344.47 530.54 345.48 532.55 346.28C534.56 347.09 536.57 348.15 538.58 348.76C540.58 349.37 543.60 349.73 544.60 349.93" stroke="#f8bb4a" stroke-width="1.15"/>
<path d="M447.50 344.08C448.51 344.14 451.55 344.32 453.57 344.42C455.60 344.52 457.62 344.63 459.65 344.68C461.67 344.72 463.70 344.73 465.73 344.70C467.75 344.66 469.78 344.50 471.80 344.47C473.82 344.44 475.83 344.41 477.85 344.50C479.87 344.58 481.88 344.78 483.90 344.97C485.92 345.15 487.93 345.42 489.95 345.60C491.97 345.78 493.97 345.90 496.00 346.03C498.03 346.15 500.08 346.27 502.12 346.34C504.17 346.42 506.21 346.47 508.25 346.47C510.29 346.47 512.33 346.42 514.38 346.34C516.42 346.27 518.48 345.80 520.50 346.03C522.52 346.26 524.52 346.98 526.52 347.71C528.53 348.44 530.54 349.60 532.55 350.40C534.56 351.20 536.57 352.12 538.58 352.53C540.58 352.94 543.60 352.80 544.60 352.85" stroke="#f8bb4a" stroke-width="1.15"/>
<path d="M447.50 346.03C448.51 346.08 451.55 346.27 453.57 346.34C455.60 346.41 457.62 346.47 459.65 346.47C461.67 346.47 463.70 346.41 465.73 346.34C467.75 346.27 469.78 346.08 471.80 346.03C473.82 345.98 475.83 345.95 477.85 346.05C479.87 346.16 481.88 346.41 483.90 346.64C485.92 346.87 487.93 347.21 489.95 347.43C491.97 347.66 493.97 347.89 496.00 347.98C498.03 348.06 500.08 347.91 502.12 347.95C504.17 347.99 506.21 348.10 508.25 348.22C510.29 348.33 512.33 348.51 514.38 348.63C516.42 348.76 518.48 348.66 520.50 348.95C522.52 349.24 524.52 349.71 526.52 350.37C528.53 351.04 530.54 352.16 532.55 352.96C534.56 353.77 536.57 354.73 538.58 355.20C540.58 355.67 543.60 355.68 544.60 355.77" stroke="#f8bb4a" stroke-width="1.15"/>
<path d="M447.50 348.95C448.51 348.86 451.55 348.57 453.57 348.42C455.60 348.28 457.62 348.14 459.65 348.09C461.67 348.05 463.70 348.07 465.73 348.15C467.75 348.23 469.78 348.55 471.80 348.56C473.82 348.57 475.83 348.25 477.85 348.19C479.87 348.13 481.88 348.14 483.90 348.21C485.92 348.28 487.93 348.45 489.95 348.61C491.97 348.76 493.97 348.89 496.00 349.15C498.03 349.40 500.08 349.67 502.12 350.14C504.17 350.60 506.21 351.36 508.25 351.92C510.29 352.47 512.33 353.12 514.38 353.44C516.42 353.76 518.48 353.82 520.50 353.82C522.52 353.83 524.52 353.46 526.52 353.47C528.53 353.49 530.54 353.67 532.55 353.90C534.56 354.13 536.57 354.54 538.58 354.85C540.58 355.16 543.60 355.62 544.60 355.77" stroke="#4848ee" stroke-width="1.20"/>
<path d="M447.50 405.84C448.51 405.74 451.55 405.60 453.57 405.25C455.60 404.90 457.62 404.25 459.65 403.73C461.67 403.22 463.70 402.54 465.73 402.17C467.75 401.79 469.78 401.53 471.80 401.48C473.82 401.43 475.83 401.94 477.85 401.87C479.87 401.79 481.88 401.43 483.90 401.02C485.92 400.62 487.93 399.93 489.95 399.44C491.97 398.94 493.97 398.07 496.00 398.04C498.03 398.01 500.08 398.84 502.12 399.25C504.17 399.66 506.21 400.20 508.25 400.50C510.29 400.81 512.33 401.06 514.38 401.08C516.42 401.10 518.48 400.62 520.50 400.63C522.52 400.63 524.52 400.97 526.52 401.10C528.53 401.24 530.54 401.39 532.55 401.45C534.56 401.51 536.57 401.52 538.58 401.47C540.58 401.42 543.60 401.20 544.60 401.15" stroke="#f8bb4a" stroke-width="1.20"/>
<path d="M447.50 392.63C448.51 393.13 451.55 394.51 453.57 395.64C455.60 396.76 457.62 398.36 459.65 399.36C461.67 400.36 463.70 401.34 465.73 401.63C467.75 401.92 469.78 401.20 471.80 401.11C473.82 401.02 475.83 401.19 477.85 401.10C479.87 401.01 481.88 400.79 483.90 400.58C485.92 400.37 487.93 400.06 489.95 399.86C491.97 399.66 493.97 399.72 496.00 399.36C498.03 399.01 500.08 398.46 502.12 397.75C504.17 397.04 506.21 395.91 508.25 395.11C510.29 394.32 512.33 393.40 514.38 392.99C516.42 392.58 518.48 392.90 520.50 392.63C522.52 392.35 524.52 391.50 526.52 391.33C528.53 391.16 530.54 391.28 532.55 391.61C534.56 391.94 536.57 392.67 538.58 393.30C540.58 393.94 543.60 395.06 544.60 395.42" stroke="#f8bb4a" stroke-width="1.20"/>
<path d="M447.50 391.08C448.51 391.29 451.55 391.98 453.57 392.33C455.60 392.69 457.62 393.08 459.65 393.23C461.67 393.38 463.70 393.38 465.73 393.24C467.75 393.10 469.78 392.53 471.80 392.37C473.82 392.20 475.83 392.03 477.85 392.24C479.87 392.44 481.88 393.02 483.90 393.59C485.92 394.15 487.93 395.03 489.95 395.63C491.97 396.22 493.97 397.01 496.00 397.16C498.03 397.32 500.08 396.82 502.12 396.55C504.17 396.29 506.21 395.86 508.25 395.57C510.29 395.28 512.33 394.94 514.38 394.79C516.42 394.65 518.48 394.47 520.50 394.68C522.52 394.88 524.52 395.85 526.52 396.03C528.53 396.21 530.54 396.09 532.55 395.75C534.56 395.42 536.57 394.67 538.58 394.02C540.58 393.36 543.60 392.20 544.60 391.83" stroke="#f8bb4a" stroke-width="1.20"/>
<path d="M447.50 391.56C448.51 391.56 451.55 391.42 453.57 391.55C455.60 391.67 457.62 392.01 459.65 392.32C461.67 392.63 463.70 393.11 465.73 393.43C467.75 393.74 469.78 394.30 471.80 394.22C473.82 394.14 475.83 393.64 477.85 392.96C479.87 392.28 481.88 391.06 483.90 390.14C485.92 389.22 487.93 388.04 489.95 387.42C491.97 386.79 493.97 386.26 496.00 386.38C498.03 386.50 500.08 387.38 502.12 388.12C504.17 388.86 506.21 390.02 508.25 390.82C510.29 391.62 512.33 392.51 514.38 392.90C516.42 393.29 518.48 392.98 520.50 393.14C522.52 393.31 524.52 393.71 526.52 393.89C528.53 394.08 530.54 394.23 532.55 394.25C534.56 394.27 536.57 394.17 538.58 394.02C540.58 393.86 543.60 393.44 544.60 393.32" stroke="#f8bb4a" stroke-width="1.20"/>
<path d="M447.50 382.29C448.51 382.27 451.55 381.84 453.57 382.22C455.60 382.60 457.62 383.61 459.65 384.56C461.67 385.51 463.70 386.97 465.73 387.94C467.75 388.91 469.78 390.09 471.80 390.38C473.82 390.67 475.83 390.24 477.85 389.67C479.87 389.11 481.88 387.96 483.90 387.01C485.92 386.05 487.93 384.73 489.95 383.93C491.97 383.14 493.97 382.86 496.00 382.26C498.03 381.65 500.08 380.78 502.12 380.31C504.17 379.84 506.21 379.46 508.25 379.43C510.29 379.40 512.33 379.70 514.38 380.13C516.42 380.56 518.48 381.80 520.50 382.01C522.52 382.21 524.52 381.40 526.52 381.37C528.53 381.34 530.54 381.54 532.55 381.83C534.56 382.12 536.57 382.68 538.58 383.12C540.58 383.56 543.60 384.26 544.60 384.49" stroke="#f8bb4a" stroke-width="1.20"/>
<path d="M447.50 382.46C448.51 382.65 451.55 383.20 453.57 383.57C455.60 383.94 457.62 384.42 459.65 384.68C461.67 384.94 463.70 385.14 465.73 385.14C467.75 385.14 469.78 384.90 471.80 384.69C473.82 384.48 475.83 384.29 477.85 383.87C479.87 383.45 481.88 382.73 483.90 382.18C485.92 381.64 487.93 380.97 489.95 380.62C491.97 380.28 493.97 380.00 496.00 380.10C498.03 380.20 500.08 380.98 502.12 381.23C504.17 381.47 506.21 381.62 508.25 381.57C510.29 381.52 512.33 381.24 514.38 380.92C516.42 380.61 518.48 379.45 520.50 379.67C522.52 379.89 524.52 381.29 526.52 382.24C528.53 383.20 530.54 384.56 532.55 385.40C534.56 386.23 536.57 387.05 538.58 387.28C540.58 387.51 543.60 386.87 544.60 386.79" stroke="#f8bb4a" stroke-width="1.20"/>
<path d="M447.50 384.87C448.51 384.98 451.55 385.41 453.57 385.51C455.60 385.62 457.62 385.60 459.65 385.48C461.67 385.36 463.70 385.06 465.73 384.79C467.75 384.52 469.78 383.81 471.80 383.85C473.82 383.88 475.83 384.86 477.85 385.00C479.87 385.14 481.88 385.01 483.90 384.70C485.92 384.39 487.93 383.72 489.95 383.13C491.97 382.55 493.97 381.85 496.00 381.21C498.03 380.57 500.08 379.81 502.12 379.32C504.17 378.82 506.21 378.34 508.25 378.22C510.29 378.09 512.33 378.24 514.38 378.56C516.42 378.88 518.48 380.00 520.50 380.14C522.52 380.28 524.52 379.64 526.52 379.40C528.53 379.16 530.54 378.86 532.55 378.70C534.56 378.54 536.57 378.44 538.58 378.45C540.58 378.47 543.60 378.75 544.60 378.80" stroke="#f8bb4a" stroke-width="1.20"/>
<path d="M447.50 372.91C448.51 372.78 451.55 372.13 453.57 372.12C455.60 372.11 457.62 372.42 459.65 372.84C461.67 373.27 463.70 374.04 465.73 374.65C467.75 375.26 469.78 375.92 471.80 376.49C473.82 377.07 475.83 377.85 477.85 378.10C479.87 378.35 481.88 378.31 483.90 377.99C485.92 377.68 487.93 376.92 489.95 376.23C491.97 375.54 493.97 374.38 496.00 373.84C498.03 373.31 500.08 373.08 502.12 373.01C504.17 372.95 506.21 373.14 508.25 373.45C510.29 373.77 512.33 374.39 514.38 374.91C516.42 375.42 518.48 376.07 520.50 376.52C522.52 376.97 524.52 377.53 526.52 377.63C528.53 377.73 530.54 377.52 532.55 377.13C534.56 376.75 536.57 375.97 538.58 375.32C540.58 374.68 543.60 373.61 544.60 373.26" stroke="#f8bb4a" stroke-width="1.20"/>
<path d="M447.50 377.67C448.51 377.61 451.55 377.60 453.57 377.27C455.60 376.95 457.62 376.27 459.65 375.71C461.67 375.16 463.70 374.38 465.73 373.91C467.75 373.45 469.78 373.47 471.80 372.93C473.82 372.39 475.83 371.35 477.85 370.68C479.87 370.01 481.88 369.24 483.90 368.90C485.92 368.56 487.93 368.45 489.95 368.64C491.97 368.83 493.97 370.10 496.00 370.05C498.03 370.00 500.08 368.78 502.12 368.35C504.17 367.92 506.21 367.53 508.25 367.45C510.29 367.37 512.33 367.56 514.38 367.88C516.42 368.21 518.48 369.18 520.50 369.39C522.52 369.60 524.52 368.83 526.52 369.14C528.53 369.44 530.54 370.34 532.55 371.22C534.56 372.10 536.57 373.48 538.58 374.43C540.58 375.37 543.60 376.46 544.60 376.87" stroke="#f8bb4a" stroke-width="1.20"/>
<path d="M447.50 371.27C448.51 371.19 451.55 370.84 453.57 370.79C455.60 370.73 457.62 370.80 459.65 370.95C461.67 371.09 463.70 371.40 465.73 371.65C467.75 371.91 469.78 372.16 471.80 372.49C473.82 372.83 475.83 373.46 477.85 373.69C479.87 373.91 481.88 373.99 483.90 373.86C485.92 373.72 487.93 373.31 489.95 372.90C491.97 372.49 493.97 371.45 496.00 371.38C498.03 371.31 500.08 372.31 502.12 372.51C504.17 372.71 506.21 372.73 508.25 372.57C510.29 372.41 512.33 371.96 514.38 371.53C516.42 371.11 518.48 370.32 520.50 370.00C522.52 369.69 524.52 369.92 526.52 369.65C528.53 369.38 530.54 368.83 532.55 368.38C534.56 367.93 536.57 367.31 538.58 366.95C540.58 366.58 543.60 366.31 544.60 366.18" stroke="#f8bb4a" stroke-width="1.20"/>
<path d="M447.50 363.40C448.51 363.41 451.55 363.59 453.57 363.45C455.60 363.31 457.62 362.93 459.65 362.57C461.67 362.21 463.70 361.65 465.73 361.27C467.75 360.89 469.78 360.42 471.80 360.31C473.82 360.21 475.83 360.51 477.85 360.63C479.87 360.75 481.88 360.94 483.90 361.05C485.92 361.17 487.93 361.28 489.95 361.32C491.97 361.36 493.97 361.55 496.00 361.29C498.03 361.03 500.08 360.22 502.12 359.77C504.17 359.32 506.21 358.82 508.25 358.60C510.29 358.39 512.33 358.33 514.38 358.47C516.42 358.61 518.48 359.04 520.50 359.45C522.52 359.85 524.52 360.38 526.52 360.91C528.53 361.43 530.54 362.16 532.55 362.60C534.56 363.04 536.57 363.44 538.58 363.54C540.58 363.63 543.60 363.23 544.60 363.17" stroke="#f8bb4a" stroke-width="1.20"/>
<path d="M447.50 358.75C448.51 359.03 451.55 359.84 453.57 360.40C455.60 360.95 457.62 361.69 459.65 362.10C461.67 362.51 463.70 362.83 465.73 362.85C467.75 362.88 469.78 362.32 471.80 362.23C473.82 362.13 475.83 362.35 477.85 362.29C479.87 362.23 481.88 362.04 483.90 361.85C485.92 361.67 487.93 361.38 489.95 361.18C491.97 360.98 493.97 360.31 496.00 360.66C498.03 361.00 500.08 362.42 502.12 363.25C504.17 364.09 506.21 365.13 508.25 365.66C510.29 366.20 512.33 366.55 514.38 366.47C516.42 366.40 518.48 365.23 520.50 365.21C522.52 365.19 524.52 366.01 526.52 366.34C528.53 366.67 530.54 367.03 532.55 367.18C534.56 367.34 536.57 367.37 538.58 367.25C540.58 367.14 543.60 366.63 544.60 366.50" stroke="#f8bb4a" stroke-width="1.20"/>
<path d="M447.50 356.31C448.51 356.32 451.55 356.14 453.57 356.36C455.60 356.58 457.62 357.12 459.65 357.61C461.67 358.11 463.70 358.86 465.73 359.34C467.75 359.83 469.78 360.63 471.80 360.53C473.82 360.42 475.83 359.52 477.85 358.71C479.87 357.90 481.88 356.59 483.90 355.68C485.92 354.76 487.93 353.70 489.95 353.21C491.97 352.72 493.97 352.59 496.00 352.75C498.03 352.92 500.08 353.62 502.12 354.19C504.17 354.77 506.21 355.65 508.25 356.22C510.29 356.80 512.33 357.41 514.38 357.64C516.42 357.88 518.48 357.75 520.50 357.63C522.52 357.52 524.52 357.05 526.52 356.95C528.53 356.85 530.54 356.88 532.55 357.03C534.56 357.18 536.57 357.53 538.58 357.84C540.58 358.14 543.60 358.71 544.60 358.89" stroke="#f8bb4a" stroke-width="1.20"/>
<path d="M447.50 353.89C448.51 353.75 451.55 353.31 453.57 353.03C455.60 352.76 457.62 352.41 459.65 352.23C461.67 352.05 463.70 351.93 465.73 351.95C467.75 351.97 469.78 352.35 471.80 352.35C473.82 352.36 475.83 351.84 477.85 351.99C479.87 352.14 481.88 352.68 483.90 353.24C485.92 353.80 487.93 354.73 489.95 355.38C491.97 356.03 493.97 356.88 496.00 357.14C498.03 357.41 500.08 357.29 502.12 356.97C504.17 356.65 506.21 355.90 508.25 355.22C510.29 354.55 512.33 353.56 514.38 352.93C516.42 352.30 518.48 351.73 520.50 351.43C522.52 351.14 524.52 351.09 526.52 351.17C528.53 351.25 530.54 351.57 532.55 351.91C534.56 352.26 536.57 352.83 538.58 353.23C540.58 353.64 543.60 354.16 544.60 354.35" stroke="#f8bb4a" stroke-width="1.20"/>
<path d="M447.50 403.50C448.51 403.43 451.55 403.49 453.57 403.09C455.60 402.69 457.62 401.85 459.65 401.12C461.67 400.40 463.70 399.38 465.73 398.76C467.75 398.13 469.78 397.30 471.80 397.38C473.82 397.46 475.83 398.64 477.85 399.23C479.87 399.82 481.88 400.55 483.90 400.91C485.92 401.28 487.93 401.51 489.95 401.44C491.97 401.37 493.97 400.60 496.00 400.50C498.03 400.40 500.08 400.97 502.12 400.83C504.17 400.69 506.21 400.17 508.25 399.64C510.29 399.10 512.33 398.23 514.38 397.62C516.42 397.00 518.48 396.29 520.50 395.95C522.52 395.62 524.52 395.26 526.52 395.58C528.53 395.91 530.54 396.92 532.55 397.92C534.56 398.92 536.57 400.50 538.58 401.58C540.58 402.67 543.60 403.96 544.60 404.44" stroke="#4848ee" stroke-width="1.15"/>
<path d="M447.50 399.64C448.51 399.45 451.55 399.08 453.57 398.54C455.60 397.99 457.62 397.05 459.65 396.35C461.67 395.66 463.70 394.80 465.73 394.37C467.75 393.93 469.78 393.86 471.80 393.74C473.82 393.63 475.83 393.25 477.85 393.67C479.87 394.08 481.88 395.19 483.90 396.23C485.92 397.28 487.93 398.87 489.95 399.94C491.97 401.00 493.97 402.16 496.00 402.61C498.03 403.07 500.08 402.65 502.12 402.68C504.17 402.71 506.21 402.76 508.25 402.80C510.29 402.84 512.33 402.89 514.38 402.91C516.42 402.94 518.48 403.42 520.50 402.95C522.52 402.47 524.52 401.08 526.52 400.04C528.53 399.00 530.54 397.56 532.55 396.70C534.56 395.84 536.57 395.05 538.58 394.88C540.58 394.70 543.60 395.51 544.60 395.64" stroke="#4848ee" stroke-width="1.15"/>
<path d="M447.50 398.14C448.51 398.31 451.55 399.26 453.57 399.20C455.60 399.14 457.62 398.53 459.65 397.78C461.67 397.02 463.70 395.70 465.73 394.69C467.75 393.69 469.78 392.32 471.80 391.75C473.82 391.19 475.83 391.25 477.85 391.31C479.87 391.37 481.88 391.72 483.90 392.12C485.92 392.52 487.93 393.21 489.95 393.72C491.97 394.23 493.97 394.90 496.00 395.17C498.03 395.44 500.08 395.04 502.12 395.31C504.17 395.59 506.21 396.23 508.25 396.81C510.29 397.39 512.33 398.24 514.38 398.78C516.42 399.33 518.48 399.59 520.50 400.07C522.52 400.56 524.52 401.31 526.52 401.70C528.53 402.10 530.54 402.41 532.55 402.43C534.56 402.46 536.57 402.20 538.58 401.84C540.58 401.48 543.60 400.53 544.60 400.27" stroke="#4848ee" stroke-width="1.15"/>
<path d="M447.50 387.76C448.51 387.87 451.55 388.20 453.57 388.43C455.60 388.65 457.62 388.95 459.65 389.12C461.67 389.28 463.70 389.42 465.73 389.43C467.75 389.44 469.78 389.50 471.80 389.17C473.82 388.85 475.83 387.86 477.85 387.48C479.87 387.11 481.88 386.88 483.90 386.94C485.92 387.00 487.93 387.39 489.95 387.85C491.97 388.31 493.97 389.41 496.00 389.69C498.03 389.97 500.08 389.49 502.12 389.52C504.17 389.55 506.21 389.70 508.25 389.86C510.29 390.03 512.33 390.31 514.38 390.51C516.42 390.72 518.48 391.18 520.50 391.09C522.52 391.01 524.52 390.39 526.52 390.01C528.53 389.63 530.54 389.12 532.55 388.82C534.56 388.53 536.57 388.27 538.58 388.23C540.58 388.19 543.60 388.52 544.60 388.58" stroke="#4848ee" stroke-width="1.15"/>
<path d="M447.50 381.85C448.51 382.16 451.55 383.05 453.57 383.70C455.60 384.36 457.62 385.24 459.65 385.76C461.67 386.27 463.70 386.73 465.73 386.81C467.75 386.89 469.78 386.07 471.80 386.24C473.82 386.42 475.83 387.27 477.85 387.85C479.87 388.43 481.88 389.24 483.90 389.72C485.92 390.20 487.93 390.65 489.95 390.75C491.97 390.85 493.97 390.35 496.00 390.34C498.03 390.33 500.08 390.79 502.12 390.68C504.17 390.56 506.21 390.12 508.25 389.64C510.29 389.17 512.33 388.39 514.38 387.84C516.42 387.28 518.48 386.48 520.50 386.32C522.52 386.16 524.52 386.92 526.52 386.86C528.53 386.80 530.54 386.42 532.55 385.97C534.56 385.51 536.57 384.73 538.58 384.15C540.58 383.57 543.60 382.76 544.60 382.48" stroke="#4848ee" stroke-width="1.15"/>
<path d="M447.50 383.16C448.51 383.48 451.55 384.40 453.57 385.06C455.60 385.72 457.62 386.62 459.65 387.13C461.67 387.65 463.70 388.09 465.73 388.16C467.75 388.23 469.78 387.42 471.80 387.55C473.82 387.68 475.83 388.82 477.85 388.95C479.87 389.08 481.88 388.81 483.90 388.32C485.92 387.83 487.93 386.84 489.95 386.02C491.97 385.20 493.97 384.02 496.00 383.40C498.03 382.79 500.08 382.67 502.12 382.33C504.17 381.98 506.21 381.57 508.25 381.35C510.29 381.14 512.33 381.01 514.38 381.05C516.42 381.09 518.48 381.28 520.50 381.60C522.52 381.92 524.52 382.33 526.52 382.97C528.53 383.61 530.54 384.68 532.55 385.45C534.56 386.22 536.57 387.14 538.58 387.58C540.58 388.03 543.60 388.03 544.60 388.12" stroke="#4848ee" stroke-width="1.15"/>
<path d="M447.50 385.28C448.51 385.41 451.55 385.85 453.57 386.07C455.60 386.28 457.62 386.48 459.65 386.55C461.67 386.61 463.70 386.56 465.73 386.44C467.75 386.32 469.78 385.69 471.80 385.81C473.82 385.94 475.83 387.04 477.85 387.18C479.87 387.33 481.88 387.11 483.90 386.67C485.92 386.24 487.93 385.34 489.95 384.59C491.97 383.83 493.97 382.40 496.00 382.15C498.03 381.89 500.08 382.78 502.12 383.07C504.17 383.35 506.21 383.69 508.25 383.85C510.29 384.02 512.33 384.10 514.38 384.05C516.42 383.99 518.48 383.71 520.50 383.53C522.52 383.35 524.52 383.11 526.52 382.98C528.53 382.86 530.54 382.77 532.55 382.78C534.56 382.78 536.57 382.89 538.58 383.03C540.58 383.16 543.60 383.49 544.60 383.59" stroke="#4848ee" stroke-width="1.15"/>
<path d="M447.50 376.71C448.51 376.71 451.55 376.48 453.57 376.67C455.60 376.87 457.62 377.39 459.65 377.88C461.67 378.37 463.70 379.12 465.73 379.63C467.75 380.13 469.78 380.97 471.80 380.89C473.82 380.81 475.83 379.50 477.85 379.15C479.87 378.79 481.88 378.62 483.90 378.76C485.92 378.89 487.93 379.41 489.95 379.95C491.97 380.50 493.97 381.72 496.00 382.03C498.03 382.34 500.08 382.20 502.12 381.80C504.17 381.41 506.21 380.48 508.25 379.65C510.29 378.83 512.33 377.61 514.38 376.84C516.42 376.07 518.48 375.46 520.50 375.01C522.52 374.56 524.52 374.31 526.52 374.12C528.53 373.94 530.54 373.84 532.55 373.89C534.56 373.95 536.57 374.19 538.58 374.46C540.58 374.73 543.60 375.32 544.60 375.49" stroke="#4848ee" stroke-width="1.15"/>
<path d="M447.50 374.02C448.51 373.95 451.55 373.86 453.57 373.62C455.60 373.38 457.62 372.93 459.65 372.58C461.67 372.23 463.70 371.76 465.73 371.50C467.75 371.24 469.78 370.81 471.80 371.02C473.82 371.23 475.83 372.12 477.85 372.74C479.87 373.36 481.88 374.23 483.90 374.75C485.92 375.26 487.93 375.74 489.95 375.85C491.97 375.97 493.97 375.84 496.00 375.42C498.03 375.00 500.08 373.89 502.12 373.31C504.17 372.74 506.21 372.17 508.25 371.99C510.29 371.80 512.33 371.90 514.38 372.21C516.42 372.53 518.48 373.80 520.50 373.87C522.52 373.93 524.52 373.09 526.52 372.61C528.53 372.14 530.54 371.46 532.55 371.03C534.56 370.60 536.57 370.18 538.58 370.05C540.58 369.91 543.60 370.20 544.60 370.23" stroke="#4848ee" stroke-width="1.15"/>
<path d="M447.50 373.61C448.51 373.48 451.55 372.88 453.57 372.82C455.60 372.75 457.62 372.92 459.65 373.21C461.67 373.50 463.70 374.08 465.73 374.56C467.75 375.03 469.78 375.65 471.80 376.07C473.82 376.48 475.83 376.85 477.85 377.05C479.87 377.25 481.88 377.35 483.90 377.27C485.92 377.20 487.93 376.91 489.95 376.61C491.97 376.30 493.97 376.09 496.00 375.44C498.03 374.80 500.08 373.82 502.12 372.76C504.17 371.70 506.21 370.13 508.25 369.10C510.29 368.08 512.33 367.00 514.38 366.61C516.42 366.22 518.48 366.76 520.50 366.74C522.52 366.72 524.52 366.35 526.52 366.49C528.53 366.63 530.54 367.10 532.55 367.58C534.56 368.07 536.57 368.84 538.58 369.39C540.58 369.93 543.60 370.60 544.60 370.84" stroke="#4848ee" stroke-width="1.15"/>
<path d="M447.50 366.22C448.51 366.26 451.55 366.58 453.57 366.43C455.60 366.27 457.62 365.77 459.65 365.28C461.67 364.78 463.70 363.99 465.73 363.45C467.75 362.90 469.78 362.46 471.80 362.01C473.82 361.56 475.83 360.88 477.85 360.75C479.87 360.63 481.88 360.83 483.90 361.23C485.92 361.63 487.93 362.46 489.95 363.16C491.97 363.86 493.97 364.97 496.00 365.41C498.03 365.85 500.08 365.51 502.12 365.81C504.17 366.11 506.21 366.70 508.25 367.19C510.29 367.68 512.33 368.34 514.38 368.74C516.42 369.13 518.48 369.52 520.50 369.55C522.52 369.57 524.52 369.39 526.52 368.87C528.53 368.34 530.54 367.28 532.55 366.41C534.56 365.53 536.57 364.32 538.58 363.60C540.58 362.88 543.60 362.35 544.60 362.10" stroke="#4848ee" stroke-width="1.15"/>
<path d="M447.50 365.10C448.51 365.28 451.55 365.76 453.57 366.15C455.60 366.53 457.62 367.08 459.65 367.42C461.67 367.76 463.70 368.09 465.73 368.18C467.75 368.27 469.78 367.67 471.80 367.97C473.82 368.27 475.83 369.50 477.85 369.99C479.87 370.48 481.88 370.88 483.90 370.92C485.92 370.96 487.93 370.65 489.95 370.21C491.97 369.77 493.97 368.55 496.00 368.28C498.03 368.02 500.08 368.57 502.12 368.64C504.17 368.71 506.21 368.72 508.25 368.68C510.29 368.63 512.33 368.50 514.38 368.37C516.42 368.25 518.48 368.27 520.50 367.91C522.52 367.54 524.52 366.98 526.52 366.18C528.53 365.39 530.54 364.07 532.55 363.13C534.56 362.19 536.57 361.07 538.58 360.54C540.58 360.01 543.60 360.03 544.60 359.93" stroke="#4848ee" stroke-width="1.15"/>
<path d="M447.50 355.99C448.51 356.13 451.55 356.36 453.57 356.83C455.60 357.30 457.62 358.14 459.65 358.79C461.67 359.44 463.70 360.26 465.73 360.71C467.75 361.16 469.78 361.59 471.80 361.48C473.82 361.36 475.83 360.64 477.85 360.01C479.87 359.38 481.88 358.37 483.90 357.68C485.92 356.99 487.93 356.20 489.95 355.85C491.97 355.51 493.97 355.36 496.00 355.60C498.03 355.84 500.08 356.44 502.12 357.28C504.17 358.13 506.21 359.59 508.25 360.67C510.29 361.75 512.33 363.09 514.38 363.78C516.42 364.46 518.48 364.84 520.50 364.78C522.52 364.72 524.52 363.79 526.52 363.39C528.53 363.00 530.54 362.57 532.55 362.40C534.56 362.23 536.57 362.22 538.58 362.38C540.58 362.54 543.60 363.19 544.60 363.35" stroke="#4848ee" stroke-width="1.15"/>
<path d="M447.50 361.75C448.51 361.56 451.55 361.06 453.57 360.60C455.60 360.15 457.62 359.46 459.65 359.01C461.67 358.56 463.70 358.09 465.73 357.91C467.75 357.74 469.78 357.98 471.80 357.95C473.82 357.93 475.83 357.92 477.85 357.76C479.87 357.59 481.88 357.25 483.90 356.96C485.92 356.67 487.93 356.27 489.95 356.03C491.97 355.78 493.97 355.84 496.00 355.50C498.03 355.17 500.08 354.20 502.12 354.03C504.17 353.87 506.21 354.08 508.25 354.52C510.29 354.96 512.33 355.89 514.38 356.67C516.42 357.46 518.48 359.11 520.50 359.24C522.52 359.37 524.52 357.86 526.52 357.47C528.53 357.09 530.54 356.87 532.55 356.95C534.56 357.03 536.57 357.47 538.58 357.97C540.58 358.47 543.60 359.61 544.60 359.94" stroke="#4848ee" stroke-width="1.15"/>
<path d="M447.50 358.81C448.51 359.06 451.55 360.03 453.57 360.32C455.60 360.60 457.62 360.69 459.65 360.53C461.67 360.36 463.70 359.84 465.73 359.32C467.75 358.80 469.78 357.64 471.80 357.40C473.82 357.16 475.83 357.88 477.85 357.86C479.87 357.85 481.88 357.62 483.90 357.33C485.92 357.04 487.93 356.51 489.95 356.11C491.97 355.71 493.97 355.05 496.00 354.92C498.03 354.78 500.08 355.20 502.12 355.30C504.17 355.39 506.21 355.47 508.25 355.48C510.29 355.49 512.33 355.44 514.38 355.36C516.42 355.28 518.48 355.24 520.50 355.00C522.52 354.76 524.52 354.19 526.52 353.94C528.53 353.68 530.54 353.48 532.55 353.47C534.56 353.46 536.57 353.64 538.58 353.88C540.58 354.12 543.60 354.75 544.60 354.92" stroke="#4848ee" stroke-width="1.15"/>
</g>
<line x1="447.50" y1="205.70" x2="447.50" y2="400.60" stroke="#b8b8b8" stroke-width="1"/>
<line x1="544.60" y1="205.70" x2="544.60" y2="400.60" stroke="#b8b8b8" stroke-width="1"/>
<line x1="447.50" y1="205.70" x2="544.60" y2="205.70" stroke="#a8a8b8" stroke-width="1"/>
<line x1="447.50" y1="400.60" x2="544.60" y2="400.60" stroke="#d8d8d8" stroke-width="1"/>
<line x1="146.70" y1="28.49" x2="148.70" y2="28.49" stroke="#555" stroke-width="0.9"/>
<line x1="146.70" y1="60.87" x2="148.70" y2="60.87" stroke="#555" stroke-width="0.9"/>
<line x1="146.70" y1="93.25" x2="148.70" y2="93.25" stroke="#555" stroke-width="0.9"/>
<line x1="146.70" y1="125.63" x2="148.70" y2="125.63" stroke="#555" stroke-width="0.9"/>
<line x1="146.70" y1="158.01" x2="148.70" y2="158.01" stroke="#555" stroke-width="0.9"/>
<line x1="26.40" y1="225.27" x2="28.40" y2="225.27" stroke="#555" stroke-width="0.9"/>
<line x1="26.40" y1="264.01" x2="28.40" y2="264.01" stroke="#555" stroke-width="0.9"/>
<line x1="26.40" y1="302.75" x2="28.40" y2="302.75" stroke="#555" stroke-width="0.9"/>
<line x1="26.40" y1="341.49" x2="28.40" y2="341.49" stroke="#555" stroke-width="0.9"/>
<line x1="26.40" y1="380.23" x2="28.40" y2="380.23" stroke="#555" stroke-width="0.9"/>
<line x1="241.50" y1="225.77" x2="243.50" y2="225.77" stroke="#555" stroke-width="0.9"/>
<line x1="241.50" y1="264.71" x2="243.50" y2="264.71" stroke="#555" stroke-width="0.9"/>
<line x1="241.50" y1="303.65" x2="243.50" y2="303.65" stroke="#555" stroke-width="0.9"/>
<line x1="241.50" y1="342.59" x2="243.50" y2="342.59" stroke="#555" stroke-width="0.9"/>
<line x1="241.50" y1="381.53" x2="243.50" y2="381.53" stroke="#555" stroke-width="0.9"/>
<line x1="445.50" y1="225.19" x2="447.50" y2="225.19" stroke="#555" stroke-width="0.9"/>
<line x1="445.50" y1="264.17" x2="447.50" y2="264.17" stroke="#555" stroke-width="0.9"/>
<line x1="445.50" y1="303.15" x2="447.50" y2="303.15" stroke="#555" stroke-width="0.9"/>
<line x1="445.50" y1="342.13" x2="447.50" y2="342.13" stroke="#555" stroke-width="0.9"/>
<line x1="445.50" y1="381.11" x2="447.50" y2="381.11" stroke="#555" stroke-width="0.9"/>
<polyline points="256.60,127.20 256.60,47.20 268.00,47.20" stroke="#2a2a2a" stroke-width="1.0" stroke-dasharray="1.8 1.4" fill="none"/>
<polyline points="268.00,59.20 279.60,59.20 279.60,127.20 256.60,127.20" stroke="#2a2a2a" stroke-width="1.0" stroke-dasharray="1.8 1.4" fill="none"/>
<line x1="250.00" y1="87.60" x2="256.60" y2="87.60" stroke="#8a8a8a" stroke-width="1.00"/>
<line x1="279.60" y1="87.60" x2="284.80" y2="87.60" stroke="#8a8a8a" stroke-width="1.00"/>
<polyline points="62.20,243.80 55.80,243.80 55.80,342.20 62.20,342.20" stroke="#1a1a1a" stroke-width="1.2" stroke-dasharray="3 2" fill="none"/>
<polyline points="62.20,265.60 65.80,265.60 65.80,342.20 62.20,342.20" stroke="#1a1a1a" stroke-width="1.2" stroke-dasharray="3 2" fill="none"/>
<line x1="50.40" y1="300.10" x2="55.80" y2="300.10" stroke="#222" stroke-width="1.20"/>
<line x1="65.80" y1="297.90" x2="70.80" y2="297.90" stroke="#222" stroke-width="1.20"/>
<polyline points="296.50,252.50 289.00,252.50 289.00,336.90 296.50,336.90" stroke="#1a1a1a" stroke-width="1.2" stroke-dasharray="3 2" fill="none"/>
<polyline points="296.50,270.30 300.90,270.30 300.90,336.90 296.50,336.90" stroke="#1a1a1a" stroke-width="1.2" stroke-dasharray="3 2" fill="none"/>
<line x1="285.00" y1="290.40" x2="289.00" y2="290.40" stroke="#222" stroke-width="1.20"/>
<line x1="300.90" y1="300.30" x2="305.00" y2="300.30" stroke="#222" stroke-width="1.20"/>
<polyline points="471.80,263.00 483.80,263.00 483.80,343.60 471.80,343.60" stroke="#1a1a1a" stroke-width="1.2" stroke-dasharray="3 2" fill="none"/>
<polyline points="471.80,237.40 513.80,237.40 513.80,349.00 471.80,349.00" stroke="#1a1a1a" stroke-width="1.2" stroke-dasharray="3 2" fill="none"/>
<line x1="483.80" y1="284.80" x2="488.60" y2="284.80" stroke="#222" stroke-width="1.20"/>
<line x1="513.80" y1="291.90" x2="518.60" y2="291.90" stroke="#222" stroke-width="1.20"/>
<text x="145.80" y="33.19" font-size="13.40" text-anchor="end" fill="#111" stroke="#111" stroke-width="0.35">4</text>
<text x="145.80" y="65.57" font-size="13.40" text-anchor="end" fill="#111" stroke="#111" stroke-width="0.35">2</text>
<text x="145.80" y="97.95" font-size="13.40" text-anchor="end" fill="#111" stroke="#111" stroke-width="0.35">0</text>
<text x="145.80" y="130.33" font-size="13.40" text-anchor="end" fill="#111" stroke="#111" stroke-width="0.35">-2</text>
<text x="145.80" y="162.71" font-size="13.40" text-anchor="end" fill="#111" stroke="#111" stroke-width="0.35">-4</text>
<text x="148.70" y="185.60" font-size="14.00" text-anchor="middle" font-weight="bold" fill="#111">Γ</text>
<text x="197.60" y="185.60" font-size="14.00" text-anchor="middle" font-weight="bold" fill="#111">X</text>
<text x="268.20" y="185.60" font-size="14.00" text-anchor="middle" font-weight="bold" fill="#111">Y</text>
<text x="319.50" y="185.60" font-size="14.00" text-anchor="middle" font-weight="bold" fill="#111">Γ</text>
<text x="369.00" y="185.60" font-size="14.00" text-anchor="middle" font-weight="bold" fill="#111">Z</text>
<text x="0" y="0" font-size="13.3" text-anchor="middle" font-weight="bold" fill="#151515" transform="translate(133.40 82.60) rotate(-90)">Energy (eV)</text>
<text x="26.50" y="229.97" font-size="13.40" text-anchor="end" fill="#111" stroke="#111" stroke-width="0.35">4</text>
<text x="26.50" y="268.71" font-size="13.40" text-anchor="end" fill="#111" stroke="#111" stroke-width="0.35">2</text>
<text x="26.50" y="307.45" font-size="13.40" text-anchor="end" fill="#111" stroke="#111" stroke-width="0.35">0</text>
<text x="26.50" y="346.19" font-size="13.40" text-anchor="end" fill="#111" stroke="#111" stroke-width="0.35">-2</text>
<text x="26.50" y="384.93" font-size="13.40" text-anchor="end" fill="#111" stroke="#111" stroke-width="0.35">-4</text>
<text x="28.40" y="412.80" font-size="12.50" text-anchor="middle" font-weight="bold" fill="#111">Γ</text>
<text x="62.20" y="412.80" font-size="12.50" text-anchor="middle" font-weight="bold" fill="#111">Y</text>
<text x="95.00" y="412.80" font-size="12.50" text-anchor="middle" font-weight="bold" fill="#111">C</text>
<text x="128.70" y="412.80" font-size="12.50" text-anchor="middle" font-weight="bold" fill="#111">Z</text>
<text x="171.60" y="412.80" font-size="12.50" text-anchor="middle" font-weight="bold" fill="#111">E</text>
<text x="204.40" y="412.80" font-size="12.50" text-anchor="middle" font-weight="bold" fill="#111">A</text>
<text x="0" y="0" font-size="13.3" text-anchor="middle" font-weight="bold" fill="#151515" transform="translate(13.40 294.30) rotate(-90)">Energy (eV)</text>
<text x="241.00" y="230.47" font-size="13.40" text-anchor="end" fill="#111" stroke="#111" stroke-width="0.35">4</text>
<text x="241.00" y="269.41" font-size="13.40" text-anchor="end" fill="#111" stroke="#111" stroke-width="0.35">2</text>
<text x="241.00" y="308.35" font-size="13.40" text-anchor="end" fill="#111" stroke="#111" stroke-width="0.35">0</text>
<text x="241.00" y="347.29" font-size="13.40" text-anchor="end" fill="#111" stroke="#111" stroke-width="0.35">-2</text>
<text x="241.00" y="386.23" font-size="13.40" text-anchor="end" fill="#111" stroke="#111" stroke-width="0.35">-4</text>
<text x="243.50" y="413.60" font-size="12.80" text-anchor="middle" font-weight="bold" fill="#111">Γ</text>
<text x="296.50" y="413.60" font-size="12.80" text-anchor="middle" font-weight="bold" fill="#111">X</text>
<text x="322.70" y="413.60" font-size="12.80" text-anchor="middle" font-weight="bold" fill="#111">W</text>
<text x="360.50" y="413.60" font-size="12.80" text-anchor="middle" font-weight="bold" fill="#111">L</text>
<text x="406.10" y="413.60" font-size="12.80" text-anchor="middle" font-weight="bold" fill="#111">Γ</text>
<text x="0" y="0" font-size="13.3" text-anchor="middle" font-weight="bold" fill="#151515" transform="translate(229.00 294.20) rotate(-90)">Energy (eV)</text>
<text x="445.00" y="229.89" font-size="13.40" text-anchor="end" fill="#111" stroke="#111" stroke-width="0.35">4</text>
<text x="445.00" y="268.87" font-size="13.40" text-anchor="end" fill="#111" stroke="#111" stroke-width="0.35">2</text>
<text x="445.00" y="307.85" font-size="13.40" text-anchor="end" fill="#111" stroke="#111" stroke-width="0.35">0</text>
<text x="445.00" y="346.83" font-size="13.40" text-anchor="end" fill="#111" stroke="#111" stroke-width="0.35">-2</text>
<text x="445.00" y="385.81" font-size="13.40" text-anchor="end" fill="#111" stroke="#111" stroke-width="0.35">-4</text>
<text x="447.50" y="413.60" font-size="13.20" text-anchor="middle" font-weight="bold" fill="#111">Y</text>
<text x="471.80" y="413.60" font-size="13.20" text-anchor="middle" font-weight="bold" fill="#111">Γ</text>
<text x="496.00" y="413.60" font-size="13.20" text-anchor="middle" font-weight="bold" fill="#111">X</text>
<text x="520.50" y="413.60" font-size="13.20" text-anchor="middle" font-weight="bold" fill="#111">S</text>
<text x="544.60" y="413.60" font-size="13.20" text-anchor="middle" font-weight="bold" fill="#111">R</text>
<text x="0" y="0" font-size="13.3" text-anchor="middle" font-weight="bold" fill="#151515" transform="translate(433.40 294.20) rotate(-90)">Energy (eV)</text>
<text x="120.40" y="21.00" font-size="16.00" text-anchor="start" font-weight="normal" fill="#111" stroke="#111" stroke-width="0.35">A</text>
<text x="12.70" y="201.80" font-size="16.00" text-anchor="start" font-weight="normal" fill="#111" stroke="#111" stroke-width="0.35">B</text>
<text x="228.00" y="202.00" font-size="16.00" text-anchor="start" font-weight="normal" fill="#111" stroke="#111" stroke-width="0.35">C</text>
<text x="432.80" y="201.70" font-size="16.00" text-anchor="start" font-weight="normal" fill="#111" stroke="#111" stroke-width="0.35">D</text>
<text x="247.70" y="90.80" font-size="10.30" text-anchor="end" font-weight="bold" fill="#2b2bd2" letter-spacing="-0.2">5.67 eV</text>
<text x="286.20" y="90.80" font-size="10.30" text-anchor="start" font-weight="bold" fill="#e68e36" letter-spacing="-0.2">4.01 eV</text>
<text x="348.80" y="93.80" font-size="13.60" font-weight="bold" fill="#111">E<tspan font-size="8.30" dy="4.00">F</tspan></text>
<text x="40.80" y="298.20" font-size="9.60" text-anchor="middle" font-weight="bold" fill="#2b2bd2">5.24</text>
<text x="40.80" y="308.80" font-size="9.60" text-anchor="middle" font-weight="bold" fill="#2b2bd2">eV</text>
<text x="79.50" y="295.20" font-size="9.60" text-anchor="middle" font-weight="bold" fill="#e68e36">3.79</text>
<text x="79.50" y="306.00" font-size="9.60" text-anchor="middle" font-weight="bold" fill="#e68e36">eV</text>
<text x="134.90" y="308.20" font-size="13.00" font-weight="bold" fill="#111">E<tspan font-size="7.93" dy="3.82">F</tspan></text>
<text x="275.40" y="288.00" font-size="9.60" text-anchor="middle" font-weight="bold" fill="#2b2bd2">4.76</text>
<text x="275.50" y="298.40" font-size="9.60" text-anchor="middle" font-weight="bold" fill="#2b2bd2">eV</text>
<text x="315.20" y="299.40" font-size="9.60" text-anchor="middle" font-weight="bold" fill="#e68e36">3.42</text>
<text x="315.30" y="309.80" font-size="9.60" text-anchor="middle" font-weight="bold" fill="#e68e36">eV</text>
<text x="374.90" y="308.00" font-size="12.60" font-weight="bold" fill="#111">E<tspan font-size="7.69" dy="3.70">F</tspan></text>
<text x="499.00" y="282.60" font-size="9.60" text-anchor="middle" font-weight="bold" fill="#e68e36">4.03</text>
<text x="499.00" y="293.70" font-size="9.60" text-anchor="middle" font-weight="bold" fill="#e68e36">eV</text>
<text x="531.00" y="290.00" font-size="9.60" text-anchor="middle" font-weight="bold" fill="#2b2bd2">6.06</text>
<text x="531.00" y="300.50" font-size="9.60" text-anchor="middle" font-weight="bold" fill="#2b2bd2">eV</text>
<text x="452.80" y="307.80" font-size="12.60" font-weight="bold" fill="#111">E<tspan font-size="7.69" dy="3.70">F</tspan></text>
</svg>
</body></html>
